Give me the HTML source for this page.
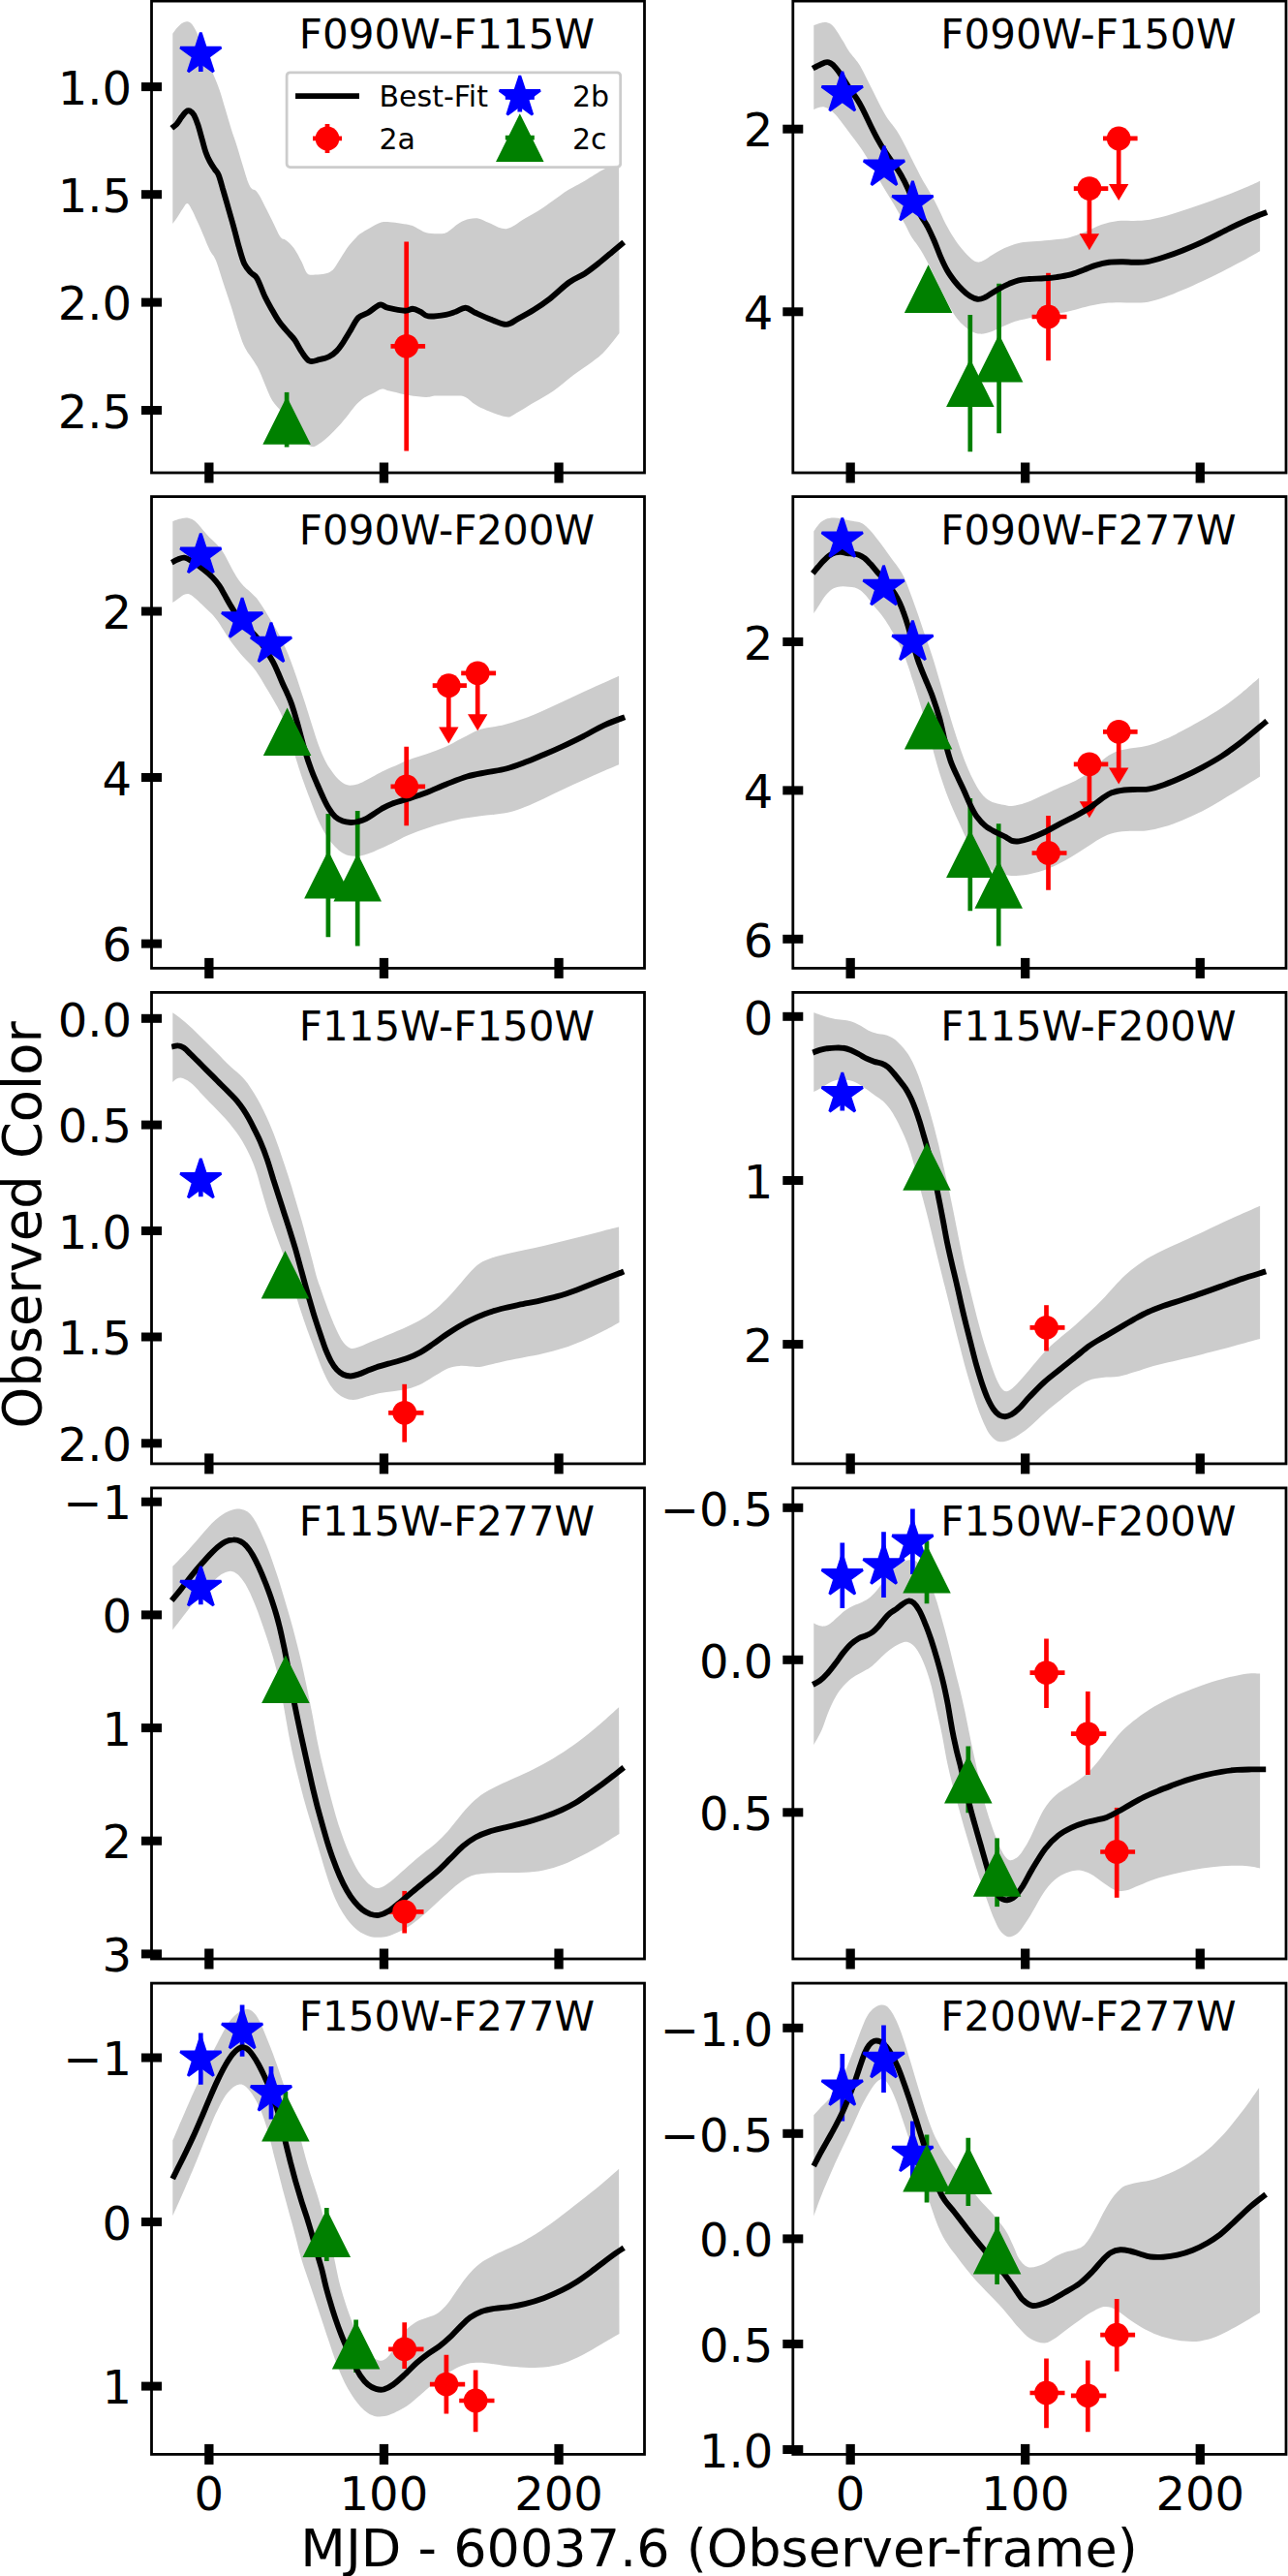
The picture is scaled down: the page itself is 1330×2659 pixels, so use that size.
<!DOCTYPE html>
<html><head><meta charset="utf-8"><title>Observed Color</title>
<style>
html,body{margin:0;padding:0;background:#fff;}
body{width:1330px;height:2659px;overflow:hidden;}
svg{display:block;}
text{font-family:'DejaVu Sans', 'Liberation Sans', sans-serif;fill:#000;}
.tl{font-size:48px;}
.tt{font-size:42px;}
.lg{font-size:30px;}
.al{font-size:54px;}
.yl{font-size:54.3px;}
</style></head><body>
<svg width="1330" height="2659" viewBox="0 0 1330 2659">
<rect width="1330" height="2659" fill="#ffffff"/>
<defs>
<clipPath id="c1"><rect x="156.5" y="1.1" width="509" height="486.9"/></clipPath>
<clipPath id="c2"><rect x="818.8" y="1.1" width="509.2" height="486.9"/></clipPath>
<clipPath id="c3"><rect x="156.5" y="512.6" width="509" height="486.8"/></clipPath>
<clipPath id="c4"><rect x="818.8" y="512.6" width="509.2" height="486.8"/></clipPath>
<clipPath id="c5"><rect x="156.5" y="1024.4" width="509" height="486.5"/></clipPath>
<clipPath id="c6"><rect x="818.8" y="1024.4" width="509.2" height="486.5"/></clipPath>
<clipPath id="c7"><rect x="156.5" y="1535.9" width="509" height="486.1"/></clipPath>
<clipPath id="c8"><rect x="818.8" y="1535.9" width="509.2" height="486.1"/></clipPath>
<clipPath id="c9"><rect x="156.5" y="2047.1" width="509" height="486.3"/></clipPath>
<clipPath id="c10"><rect x="818.8" y="2047.1" width="509.2" height="486.3"/></clipPath>
</defs>
<g clip-path="url(#c1)">
<path d="M178.3,34.7 C179.1,33.6 181.6,30.1 183.3,28.3 C185,26.4 186.7,24.8 188.4,23.8 C190,22.8 191.7,22 193.4,22.2 C195.1,22.4 196.8,23.2 198.4,25.2 C200.1,27.3 201.5,29.8 203.5,34.3 C205.5,38.9 208,46.1 210.6,52.5 C213.1,58.9 215.9,65.9 218.6,72.7 C221.3,79.4 224.4,86.1 226.7,92.9 C229.1,99.6 230.7,106.3 232.8,113 C234.8,119.8 236.8,126.8 238.8,133.2 C240.8,139.6 242.9,145 244.9,151.4 C246.9,157.8 249.1,165.5 250.9,171.6 C252.8,177.6 254.5,183.9 256,187.7 C257.5,191.6 258.7,193.3 260,194.8 C261.4,196.3 262.5,195.3 264.1,196.8 C265.6,198.3 267.2,200.7 269.1,203.9 C270.9,207.1 273.1,212 275.2,216 C277.2,220 278.9,223.4 281.2,228.1 C283.6,232.8 286.9,240.9 289.3,244.3 C291.6,247.6 293,246.1 295.3,248.1 C297.7,250.1 300.7,252.4 303.4,256.1 C306.1,259.8 309.1,265.9 311.5,270.3 C313.8,274.7 315.2,280.2 317.5,282.4 C319.9,284.6 322.6,283.4 325.6,283.4 C328.6,283.4 332.7,283.2 335.7,282.4 C338.7,281.6 341.1,281 343.8,278.4 C346.5,275.7 349.2,270.3 351.9,266.2 C354.6,262.2 357.2,257.7 359.9,254.1 C362.6,250.6 366,247.2 368,245 C370,242.9 369.7,242.9 372,241.2 C374.4,239.6 378.8,237 382.1,235.2 C385.5,233.3 389.2,231.1 392.2,230.1 C395.3,229.1 395.3,228.8 400.3,229.1 C405.3,229.5 417.1,231.1 422.1,232.1 C427.1,233.2 427.2,233.8 430.2,235.2 C433.2,236.5 436.2,239.2 440.3,240.2 C444.3,241.2 450.7,241.4 454.4,241.2 C458.1,241.1 459.1,241.1 462.5,239.2 C465.8,237.4 470.9,232.3 474.6,230.1 C478.3,227.9 481.3,226.8 484.7,226.1 C488.1,225.3 491.4,225 494.8,225.7 C498.1,226.4 500.2,228.4 504.9,230.1 C509.6,231.9 517,236.9 523,236.2 C529.1,235.5 534.8,229.8 541.2,226.1 C547.6,222.4 554,218.9 561.4,214 C568.8,209.1 578.6,201.4 585.6,196.8 C592.7,192.3 597.4,190.4 603.8,186.7 C610.2,183 618.1,177.5 624,174.6 C629.9,171.8 636.6,170.4 639.1,169.6 L639.5,344 C636.9,347.2 628.6,358.3 624,363.1 C619.4,368 617.2,369.2 611.9,373.2 C606.5,377.3 598.4,382.3 591.7,387.4 C584.9,392.4 578.2,398.8 571.5,403.5 C564.8,408.2 558,411.6 551.3,415.6 C544.6,419.7 535.8,425.3 531.1,427.7 C526.4,430.2 527.8,430.8 523,430.2 C518.3,429.5 508.2,425.8 502.9,423.7 C497.5,421.6 494.4,419.9 490.7,417.6 C487,415.4 484,411.5 480.7,410 C477.3,408.5 475.6,408.8 470.6,408.6 C465.5,408.3 455.4,408.3 450.4,408.6 C445.3,408.8 445,410.1 440.3,410 C435.6,409.9 428.4,409 422.1,408 C415.8,406.9 407,404.6 402.3,403.5 C397.7,402.4 397.3,401 394.3,401.5 C391.2,402 387.2,405 384.2,406.5 C381.1,408.1 378.8,408.7 376.1,410.6 C373.4,412.4 370.7,414.8 368,417.6 C365.3,420.5 363,424 359.9,427.7 C356.9,431.4 353.2,436.1 349.8,439.8 C346.5,443.5 343.1,446.9 339.8,449.9 C336.4,453 332.7,456.2 329.7,458 C326.6,459.9 324.6,461.7 321.6,461 C318.6,460.4 314.9,457.2 311.5,454 C308.1,450.8 304.8,446.6 301.4,441.9 C298,437.2 294.7,430.4 291.3,425.7 C287.9,421 284.2,418.6 281.2,413.6 C278.2,408.6 275.5,400.8 273.1,395.4 C270.8,390.1 269.1,385.3 267.1,381.3 C265.1,377.3 263.4,374.9 261,371.2 C258.7,367.5 255.3,363.8 253,359.1 C250.6,354.4 249.2,350 246.9,343 C244.5,335.9 241.5,325.1 238.8,316.7 C236.1,308.3 233.4,300.6 230.7,292.5 C228.1,284.4 225,274 222.7,268.3 C220.3,262.5 219,263 216.6,258.2 C214.3,253.3 210.7,244.2 208.5,239.2 C206.4,234.2 205.2,231.8 203.5,228.1 C201.8,224.4 200.1,220 198.4,217 C196.8,214 195.1,210.1 193.4,209.9 C191.7,209.8 190,213.6 188.4,216 C186.7,218.3 185,221.5 183.3,224.1 C181.6,226.6 179.1,230 178.3,231.1 Z" fill="#cccccc"/>
<line x1="207.3" y1="38.4" x2="207.3" y2="73.9" stroke="#0000ff" stroke-width="4.7"/>
<line x1="296.1" y1="404.9" x2="296.1" y2="461.5" stroke="#008000" stroke-width="4.7"/>
<line x1="403.5" y1="357.3" x2="439.1" y2="357.3" stroke="#ff0000" stroke-width="4.7"/>
<line x1="419.7" y1="249.5" x2="419.7" y2="465.5" stroke="#ff0000" stroke-width="4.7"/>
<path d="M177.3,132.2 C178.1,131.5 180.6,130 182.3,128.2 C184,126.3 185.7,123.3 187.3,121.1 C189,118.9 190.9,116.1 192.4,115.1 C193.9,114 195.1,114 196.4,114.7 C197.8,115.3 199.1,116.7 200.5,119.1 C201.8,121.5 203.2,125.2 204.5,129.2 C205.8,133.2 207.2,138.6 208.5,143.3 C209.9,148 211.2,153.6 212.6,157.5 C213.9,161.3 215.1,163.7 216.6,166.5 C218.1,169.4 220.1,172.3 221.7,174.6 C223.2,177 224.4,177.5 225.7,180.7 C227,183.9 228.4,189.2 229.7,193.8 C231.1,198.3 232.4,203.2 233.8,207.9 C235.1,212.6 236.5,217.3 237.8,222 C239.2,226.8 240.3,230.5 241.8,236.2 C243.4,241.9 245.3,250.1 247.1,256.1 C248.8,262.2 250.4,268.1 252.3,272.3 C254.3,276.5 256.8,278.9 259,281.4 C261.2,283.9 263,283.2 265.5,287.4 C267.9,291.6 271.1,301.1 273.7,306.6 C276.4,312.2 279,316.5 281.4,320.7 C283.8,325 285.6,328.3 288.1,331.8 C290.6,335.4 293.6,338.7 296.4,341.9 C299.1,345.1 301.9,347.5 304.4,351 C306.9,354.6 309,359.5 311.5,363.1 C314,366.7 316.5,371.3 319.6,372.6 C322.6,374 326.3,372 329.7,371.2 C333,370.5 336.7,369.7 339.8,368.2 C342.8,366.7 345.5,364.5 347.8,362.1 C350.2,359.8 351.5,357.6 353.9,354.1 C356.2,350.5 359.3,345.3 362,340.9 C364.6,336.6 367,330.8 370,327.8 C373.1,324.8 376.4,325 380.1,322.8 C383.8,320.6 388.9,315.5 392.2,314.7 C395.6,313.8 396,316.7 400.3,317.7 C404.6,318.7 413.8,320.6 418.1,320.7 C422.4,320.9 423.5,318.6 426.1,318.7 C428.8,318.9 431.5,320.5 434.2,321.8 C436.9,323 437.9,325.9 442.3,326.4 C446.7,326.9 455.8,325.6 460.5,324.8 C465.2,324 467.2,322.9 470.6,321.8 C473.9,320.6 477.3,317.5 480.7,317.7 C484,317.9 486.4,320.7 490.7,322.8 C495.1,324.8 501.5,327.8 506.9,329.8 C512.3,331.8 518.3,335 523,334.9 C527.8,334.7 530.4,331.3 535.2,328.8 C539.9,326.3 545.9,323.1 551.3,319.7 C556.7,316.4 561.4,313.3 567.5,308.6 C573.5,303.9 581.6,295.8 587.6,291.5 C593.7,287.1 598.4,285.9 603.8,282.4 C609.2,278.9 615.2,274 619.9,270.3 C624.6,266.6 628,263.6 632,260.2 C636.1,256.8 642.1,251.8 644.2,250.1" fill="none" stroke="#000000" stroke-width="5.9" stroke-linejoin="round" stroke-linecap="butt"/>
<path d="M207.3,33.8 L202.3,49.1 L186.2,49.1 L199.3,58.6 L194.3,74 L207.3,64.5 L220.4,74 L215.4,58.6 L228.4,49.1 L212.3,49.1Z" fill="#0000ff" stroke="#0000ff" stroke-width="2.8" stroke-linejoin="bevel"/>
<path d="M296.1,412.4 L273.6,457.4 L318.6,457.4 Z" fill="#008000" stroke="#008000" stroke-width="2.8" stroke-linejoin="miter" stroke-miterlimit="10"/>
<circle cx="419.7" cy="357.3" r="12.4" fill="#ff0000"/>
</g>
<rect x="156.5" y="1.1" width="509" height="486.9" fill="none" stroke="#000000" stroke-width="2.8"/>
<rect x="211.2" y="477.5" width="9.3" height="21" fill="#000000"/>
<rect x="391.8" y="477.5" width="9.3" height="21" fill="#000000"/>
<rect x="572.4" y="477.5" width="9.3" height="21" fill="#000000"/>
<rect x="146" y="85.1" width="21" height="9" fill="#000000"/>
<text x="136" y="107.8" text-anchor="end" class="tl">1.0</text>
<rect x="146" y="196.2" width="21" height="9" fill="#000000"/>
<text x="136" y="218.9" text-anchor="end" class="tl">1.5</text>
<rect x="146" y="307.6" width="21" height="9" fill="#000000"/>
<text x="136" y="330.3" text-anchor="end" class="tl">2.0</text>
<rect x="146" y="419" width="21" height="9" fill="#000000"/>
<text x="136" y="441.7" text-anchor="end" class="tl">2.5</text>
<text x="614" y="50.2" text-anchor="end" class="tt">F090W-F115W</text>
<g clip-path="url(#c2)">
<path d="M840.3,26.2 C841.3,25.9 844.4,24.5 846.5,24 C848.7,23.5 851.1,22.8 853.2,23.1 C855.3,23.5 857.3,24.4 859.3,26 C861.2,27.7 862.8,30.1 864.7,32.9 C866.6,35.7 868.6,39.3 870.6,42.6 C872.5,45.9 874.6,49.7 876.4,52.5 C878.3,55.3 879.9,57.1 881.7,59.3 C883.4,61.6 885.1,63.1 886.9,66 C888.8,68.9 890.8,72.9 892.8,76.7 C894.7,80.5 896.8,84.8 898.8,88.8 C900.8,92.9 902.9,96.9 904.9,100.9 C906.9,104.9 908.9,109.1 910.9,112.8 C913,116.5 915,120.1 917,123.1 C919,126.1 921,128 923,130.8 C925.1,133.6 927.1,136.5 929.1,139.9 C931.1,143.3 933.1,147.5 935.2,151.4 C937.2,155.3 939.2,159.5 941.2,163.5 C943.2,167.5 945.2,171.7 947.3,175.6 C949.3,179.6 951.3,183.5 953.3,187.1 C955.3,190.7 957.4,193.7 959.4,197.2 C961.4,200.7 963.4,204.3 965.4,208.1 C967.5,212 969.3,216 971.5,220.4 C973.6,224.8 975.7,229.8 978.4,234.5 C981,239.3 984.3,244.7 987.2,248.9 C990.1,253.1 993,256.7 995.7,259.8 C998.4,262.9 1001,265.6 1003.4,267.4 C1005.7,269.2 1007.7,270.4 1009.8,270.6 C1012,270.8 1013.9,269.8 1016.3,268.6 C1018.7,267.4 1021.3,265.1 1024,263.4 C1026.7,261.7 1029.4,259.9 1032.5,258.4 C1035.5,256.8 1039,255.3 1042.5,254 C1046.1,252.8 1049.8,251.4 1053.9,250.6 C1057.9,249.8 1061.9,249.7 1066.7,249.3 C1071.5,248.9 1078.4,248.4 1082.6,248 C1086.8,247.6 1088.4,247.6 1092,247.1 C1095.6,246.7 1099.4,246.5 1104.1,245.2 C1108.8,243.9 1114.8,241.8 1120.3,239.6 C1125.7,237.4 1131.3,234.1 1137,232.1 C1142.7,230.2 1148.8,228.8 1154.4,228.1 C1160,227.4 1165,228.1 1170.5,227.9 C1176,227.7 1180.9,227.8 1187.5,226.7 C1194.1,225.5 1202.8,223.2 1210.1,221 C1217.4,218.9 1224.6,216.3 1231.5,214 C1238.4,211.6 1245.1,209.3 1251.7,206.9 C1258.3,204.6 1265.1,202.2 1271.1,199.8 C1277,197.5 1282.4,195.2 1287.4,193 C1292.4,190.8 1298.8,187.8 1301.1,186.7 L1301.1,259.2 C1297.9,261 1288.3,266.5 1281.8,270.1 C1275.2,273.6 1268.5,277 1261.8,280.4 C1255.1,283.7 1248.3,287.1 1241.6,290.3 C1234.9,293.4 1228,296.6 1221.4,299.3 C1214.8,302.1 1208,305 1202,307 C1196,309.1 1190.6,310.7 1185.5,311.7 C1180.3,312.6 1175.8,312.5 1170.9,312.6 C1166.1,312.7 1161.4,312.3 1156.4,312.3 C1151.4,312.4 1145.9,312.4 1140.7,313 C1135.4,313.5 1129.8,314.7 1124.9,315.8 C1120,316.9 1115.6,318.4 1111.2,319.5 C1106.8,320.6 1103.6,321.5 1098.7,322.4 C1093.8,323.2 1087.5,323.6 1081.8,324.5 C1076.1,325.4 1069.1,326.9 1064.3,327.9 C1059.4,328.9 1056,329.7 1052.6,330.6 C1049.3,331.5 1046.9,332.3 1044.2,333.3 C1041.4,334.4 1038.8,335.5 1036.1,336.7 C1033.4,338 1030.7,339.5 1028,340.6 C1025.3,341.8 1022.6,343 1019.9,343.6 C1017.2,344.3 1014.6,344.8 1011.9,344.6 C1009.2,344.4 1006.5,343.6 1003.8,342.2 C1001.1,340.9 998.3,338.8 995.7,336.5 C993.1,334.2 990.5,331.6 988,328.4 C985.6,325.3 983.6,321.8 981.2,317.5 C978.8,313.2 976.1,307.7 973.5,302.6 C971,297.5 968.2,291.8 965.8,287 C963.5,282.2 961.5,277.8 959.4,273.7 C957.3,269.6 955.3,265.9 953.3,262.4 C951.3,258.9 949.3,255.9 947.3,253 C945.2,250 943.3,248.1 941.2,244.6 C939.1,241.1 937.1,236.6 934.8,232.1 C932.4,227.7 929.7,222.7 927.1,218 C924.5,213.4 921.7,208.8 919,204.3 C916.3,199.8 913.6,195.7 910.9,191 C908.2,186.3 905.5,180.9 902.9,176 C900.2,171.2 897.5,166.3 894.8,161.9 C892.1,157.5 889.4,153.6 886.7,149.8 C884,146 881.3,142.7 878.6,139.1 C875.9,135.5 873.2,131.6 870.6,128.2 C867.9,124.8 865.2,121 862.9,118.5 C860.5,116 858.5,114.4 856.4,113 C854.4,111.7 852.4,110.6 850.6,110.2 C848.7,109.9 847,110.6 845.3,111 C843.6,111.5 841.1,112.7 840.3,113 Z" fill="#cccccc"/>
<line x1="1001.8" y1="325" x2="1001.8" y2="466.3" stroke="#008000" stroke-width="4.7"/>
<line x1="1031.6" y1="292.7" x2="1031.6" y2="447.3" stroke="#008000" stroke-width="4.7"/>
<line x1="1065.6" y1="327" x2="1101.5" y2="327" stroke="#ff0000" stroke-width="4.7"/>
<line x1="1082.5" y1="281.8" x2="1082.5" y2="372.2" stroke="#ff0000" stroke-width="4.7"/>
<line x1="1108.8" y1="194.6" x2="1144.3" y2="194.6" stroke="#ff0000" stroke-width="4.7"/>
<line x1="1124.9" y1="194.6" x2="1124.9" y2="250.2" stroke="#ff0000" stroke-width="4.7"/>
<path d="M1114.7,241.2 L1135.1,241.2 L1124.9,258.2 Z" fill="#ff0000"/>
<line x1="1139" y1="142.9" x2="1174.6" y2="142.9" stroke="#ff0000" stroke-width="4.7"/>
<line x1="1155.2" y1="142.9" x2="1155.2" y2="198.9" stroke="#ff0000" stroke-width="4.7"/>
<path d="M1145,189.9 L1165.4,189.9 L1155.2,206.9 Z" fill="#ff0000"/>
<path d="M839.3,70.7 C840.3,70.1 843.4,68.5 845.3,67.5 C847.3,66.6 849.3,65.3 851,64.8 C852.7,64.2 854,63.9 855.6,64.3 C857.2,64.7 858.8,65.8 860.5,67.3 C862.1,68.8 863.8,71 865.5,73.3 C867.2,75.6 868.8,78.2 870.8,81.2 C872.7,84.2 874.9,87.8 877.2,91.2 C879.5,94.7 882.6,98.7 884.7,101.9 C886.8,105.2 888.2,107.6 889.9,110.8 C891.7,114.1 893.2,117.6 895,121.3 C896.8,125.1 898.9,129.3 900.8,133.2 C902.8,137.2 904.8,141.2 906.9,144.9 C908.9,148.6 910.9,151.9 913.2,155.4 C915.4,158.9 917.9,162.4 920.4,165.9 C922.9,169.5 926,173.5 928.1,176.8 C930.2,180.1 931.6,182.7 933.1,185.7 C934.7,188.7 935.8,191.2 937.6,195 C939.3,198.8 941.4,203.7 943.6,208.3 C945.9,212.9 948.6,218.3 950.9,222.5 C953.2,226.7 955.3,229.3 957.6,233.5 C959.8,237.8 962.1,242.7 964.4,248 C966.7,253.2 969,259.9 971.3,265.1 C973.5,270.2 975.6,274.8 978,279 C980.3,283.1 983,286.7 985.6,290.1 C988.2,293.4 991,296.5 993.7,299.1 C996.4,301.8 999.1,304.2 1001.8,305.8 C1004.4,307.4 1007,308.5 1009.4,308.8 C1011.9,309 1013.9,308.4 1016.3,307.4 C1018.7,306.4 1021.3,304.3 1024,302.7 C1026.7,301.1 1029.4,299.2 1032.5,297.6 C1035.5,296 1038.9,294.3 1042.1,292.9 C1045.4,291.5 1048.4,290.1 1051.8,289.3 C1055.3,288.4 1058.3,288.3 1062.7,288 C1067,287.7 1073.4,287.6 1078.2,287.3 C1082.9,287 1086.6,286.7 1091,286.1 C1095.4,285.5 1100,284.9 1104.7,283.7 C1109.4,282.4 1114.8,280.1 1119.3,278.5 C1123.7,276.9 1127.1,275.2 1131.4,273.9 C1135.7,272.6 1140.4,271.4 1145.1,270.8 C1149.8,270.2 1155.2,270.3 1159.6,270.3 C1164,270.3 1167.3,270.8 1171.5,270.7 C1175.7,270.7 1179.8,271 1184.9,270.1 C1189.9,269.2 1195.7,267.4 1201.8,265.5 C1207.9,263.5 1214.4,261.2 1221.4,258.4 C1228.4,255.6 1235.6,252.6 1243.6,248.8 C1251.6,245.1 1261.7,239.6 1269.4,235.8 C1277.2,232.1 1283.6,229.1 1290,226.3 C1296.5,223.5 1305.2,220.2 1308.2,219" fill="none" stroke="#000000" stroke-width="5.9" stroke-linejoin="round" stroke-linecap="butt"/>
<path d="M869.8,74 L864.8,89.3 L848.6,89.3 L861.7,98.8 L856.7,114.1 L869.8,104.6 L882.8,114.1 L877.8,98.8 L890.9,89.3 L874.7,89.3Z" fill="#0000ff" stroke="#0000ff" stroke-width="2.8" stroke-linejoin="bevel"/>
<path d="M913,150.7 L908,166 L891.8,166 L904.9,175.5 L899.9,190.8 L913,181.4 L926,190.8 L921,175.5 L934.1,166 L917.9,166Z" fill="#0000ff" stroke="#0000ff" stroke-width="2.8" stroke-linejoin="bevel"/>
<path d="M942.4,187 L937.4,202.4 L921.3,202.4 L934.4,211.8 L929.4,227.2 L942.4,217.7 L955.5,227.2 L950.5,211.8 L963.5,202.4 L947.4,202.4Z" fill="#0000ff" stroke="#0000ff" stroke-width="2.8" stroke-linejoin="bevel"/>
<path d="M958.6,276.5 L936.1,321.5 L981.1,321.5 Z" fill="#008000" stroke="#008000" stroke-width="2.8" stroke-linejoin="miter" stroke-miterlimit="10"/>
<path d="M1001.8,373.6 L979.3,418.6 L1024.3,418.6 Z" fill="#008000" stroke="#008000" stroke-width="2.8" stroke-linejoin="miter" stroke-miterlimit="10"/>
<path d="M1031.6,348.2 L1009.1,393.2 L1054.1,393.2 Z" fill="#008000" stroke="#008000" stroke-width="2.8" stroke-linejoin="miter" stroke-miterlimit="10"/>
<circle cx="1082.5" cy="327" r="12.4" fill="#ff0000"/>
<circle cx="1124.9" cy="194.6" r="12.4" fill="#ff0000"/>
<circle cx="1155.2" cy="142.9" r="12.4" fill="#ff0000"/>
</g>
<rect x="818.8" y="1.1" width="509.2" height="486.9" fill="none" stroke="#000000" stroke-width="2.8"/>
<rect x="873.5" y="477.5" width="9.3" height="21" fill="#000000"/>
<rect x="1054" y="477.5" width="9.3" height="21" fill="#000000"/>
<rect x="1234.6" y="477.5" width="9.3" height="21" fill="#000000"/>
<rect x="808.3" y="128.7" width="21" height="9" fill="#000000"/>
<text x="798.3" y="151.4" text-anchor="end" class="tl">2</text>
<rect x="808.3" y="317.3" width="21" height="9" fill="#000000"/>
<text x="798.3" y="340" text-anchor="end" class="tl">4</text>
<text x="1276.5" y="50.2" text-anchor="end" class="tt">F090W-F150W</text>
<g clip-path="url(#c3)">
<path d="M178.3,538.3 C179.3,537.9 182.4,536.5 184.7,535.8 C187,535.2 189.7,534.4 192,534.4 C194.3,534.4 196.4,534.9 198.4,536 C200.5,537.1 202.5,538.9 204.5,540.9 C206.5,543 208.5,545.8 210.6,548.2 C212.6,550.6 214.6,553 216.6,555.1 C218.6,557.1 220.7,558.6 222.7,560.7 C224.7,562.8 226.7,564.7 228.7,567.6 C230.7,570.4 232.8,574.2 234.8,577.9 C236.8,581.5 238.8,585.8 240.8,589.4 C242.9,592.9 244.9,596.4 246.9,599.3 C248.9,602.1 250.9,604.3 253,606.3 C255,608.4 257,609.5 259,611.4 C261,613.3 263,615.2 265.1,617.6 C267.1,620.1 269.1,623.2 271.1,626.3 C273.1,629.4 275.1,632.7 277.2,636.2 C279.3,639.7 281.3,643.1 283.6,647.1 C285.9,651.1 288.6,655.8 290.9,660.4 C293.2,665.1 295.3,669.9 297.4,675 C299.4,680.1 301.4,685.5 303.4,691.1 C305.4,696.8 307.5,703 309.5,708.9 C311.5,714.8 313.3,720.5 315.3,726.6 C317.3,732.8 319.1,738.8 321.4,746 C323.7,753.1 326.7,763.1 329.1,769.6 C331.4,776.1 333.5,780.6 335.7,784.9 C337.9,789.2 339.8,792.1 342.2,795.4 C344.5,798.7 347.2,802.2 349.8,804.7 C352.5,807.1 355.2,809.2 357.9,810.1 C360.6,811 363.3,810.6 366,810.2 C368.7,809.8 371.3,808.7 374.1,807.5 C376.8,806.3 379.5,804.7 382.5,803.1 C385.6,801.5 388.6,799.6 392.2,797.8 C395.9,796 399.3,794.4 404.3,792.1 C409.2,789.9 415.7,786.7 421.8,784.4 C427.9,782.1 434.4,780.4 440.7,778.2 C447,776 453.6,773.7 459.7,771.1 C465.7,768.4 470.9,765.2 477,762.1 C483.1,759.1 488.9,755.2 496.4,752.8 C503.9,750.4 512.7,750.4 521.8,747.8 C531,745.3 541.3,741.7 551.3,737.7 C561.3,733.8 571.6,728.6 581.6,724 C591.6,719.4 601.7,714.7 611.3,710.3 C620.8,705.9 634.5,699.9 639.1,697.8 L639.1,789.3 C636.2,790.6 627.6,794.1 621.4,796.8 C615.1,799.5 608.4,802.5 601.8,805.5 C595.1,808.5 588.3,811.6 581.6,814.8 C574.9,817.9 568,821.4 561.4,824.4 C554.8,827.5 548,830.7 542,833 C536,835.4 530.7,837.2 525.5,838.5 C520.2,839.8 515.7,840.1 510.5,840.8 C505.3,841.4 500,841.7 494.4,842.4 C488.8,843.2 482.8,844 477,845.1 C471.2,846.2 465.7,847.6 459.7,849.3 C453.6,850.9 447,852.8 440.7,854.9 C434.4,857 427.9,859.4 421.8,862 C415.7,864.6 409.1,868.3 404.3,870.7 C399.4,873 396,874.6 392.6,876.1 C389.3,877.6 386.9,878.8 384.2,879.8 C381.4,880.9 378.8,881.8 376.1,882.4 C373.4,883.1 370.7,883.7 368,883.8 C365.3,883.9 362.6,883.9 359.9,883.1 C357.2,882.4 354.5,881.1 351.9,879.3 C349.2,877.4 346.5,874.7 344.2,872.1 C341.8,869.5 339.8,866.8 337.7,863.6 C335.6,860.4 333.7,857.1 331.7,853.1 C329.7,849.1 327.6,844.3 325.6,839.4 C323.6,834.5 321.5,828.8 319.6,823.6 C317.6,818.5 315.6,813 313.9,808.3 C312.2,803.6 311.1,800.3 309.5,795.4 C307.9,790.4 306.4,785.6 304.2,778.5 C302.1,771.4 298.8,759.5 296.6,752.8 C294.3,746.1 292.8,742.6 290.9,738.4 C289,734.1 287.2,731 285.2,727.5 C283.3,723.9 281.2,720.4 279.2,717 C277.2,713.5 275.2,710.2 273.1,706.9 C271.1,703.5 269.2,700.1 267.1,697 C265,693.8 263,690.9 260.6,688.1 C258.3,685.3 255.6,682.9 253,680 C250.3,677.1 247.5,673.8 244.9,670.5 C242.3,667.3 239.6,663.8 237.2,660.4 C234.8,657.1 232.8,653.6 230.7,650.3 C228.7,647.1 226.8,643.7 224.7,640.9 C222.6,638 220.6,635.7 218.2,633.2 C215.9,630.7 213.1,628.4 210.6,625.9 C208,623.5 205.1,620.5 202.7,618.4 C200.2,616.4 197.9,614.2 195.8,613.4 C193.7,612.6 192.1,613.1 190.2,613.8 C188.3,614.5 186.3,616.5 184.3,617.8 C182.3,619.2 179.3,621.4 178.3,622.1 Z" fill="#cccccc"/>
<line x1="338.9" y1="840.1" x2="338.9" y2="967.3" stroke="#008000" stroke-width="4.7"/>
<line x1="369.2" y1="836.9" x2="369.2" y2="976.6" stroke="#008000" stroke-width="4.7"/>
<line x1="403.5" y1="811.8" x2="439.1" y2="811.8" stroke="#ff0000" stroke-width="4.7"/>
<line x1="419.7" y1="770.7" x2="419.7" y2="852.2" stroke="#ff0000" stroke-width="4.7"/>
<line x1="446.7" y1="707.7" x2="481.9" y2="707.7" stroke="#ff0000" stroke-width="4.7"/>
<line x1="463.3" y1="707.7" x2="463.3" y2="759.6" stroke="#ff0000" stroke-width="4.7"/>
<path d="M453.1,750.6 L473.5,750.6 L463.3,767.6 Z" fill="#ff0000"/>
<line x1="476.2" y1="694.8" x2="512.1" y2="694.8" stroke="#ff0000" stroke-width="4.7"/>
<line x1="493.2" y1="694.8" x2="493.2" y2="746.3" stroke="#ff0000" stroke-width="4.7"/>
<path d="M483,737.3 L503.4,737.3 L493.2,754.3 Z" fill="#ff0000"/>
<path d="M177.3,580.7 C178.3,580.2 181.3,578.3 183.5,577.5 C185.7,576.6 188,575.2 190.6,575.7 C193.2,576.1 196,578.1 199.3,580.1 C202.5,582.1 206.6,585.1 210,587.8 C213.3,590.4 216.5,593 219.2,595.8 C222,598.7 224.3,601.4 226.5,604.7 C228.8,608 230.7,612.1 232.8,615.6 C234.8,619.2 236.7,622.7 238.8,626.1 C240.9,629.5 242.8,632.9 245.3,636.2 C247.7,639.5 250.5,642.8 253.6,646.1 C256.6,649.4 260.4,652.4 263.6,656.2 C266.9,660 270.3,664.6 273.3,669.1 C276.4,673.7 279.7,679.2 282,683.4 C284.3,687.7 285.7,691.2 287.3,694.8 C288.8,698.3 290,701.4 291.5,704.8 C293,708.3 294.7,711.6 296.4,715.3 C298,719 299.5,722.1 301.2,727 C302.9,732 304.4,736.9 306.6,744.8 C308.9,752.7 312.2,766.1 314.7,774.4 C317.2,782.8 319.4,789.1 321.6,795 C323.7,800.8 325.6,804.8 327.6,809.5 C329.7,814.2 331.7,819 333.7,823.2 C335.7,827.5 337.7,831.6 339.8,834.9 C341.8,838.2 343.9,841 346.2,843.1 C348.6,845.2 351.3,846.6 353.9,847.6 C356.5,848.6 359.3,848.9 362,849 C364.6,849.1 367.3,848.7 370,848 C372.7,847.4 375.4,846.5 378.1,845.1 C380.8,843.8 383.5,841.7 386.2,840 C388.9,838.3 391.2,836.5 394.3,834.7 C397.3,833 400.1,831.4 404.7,829.7 C409.3,828 415.8,826.4 421.8,824.4 C427.8,822.5 434.2,820.5 440.7,818 C447.2,815.5 453.9,812.2 460.9,809.5 C467.8,806.8 475.3,803.6 482.3,801.5 C489.3,799.5 496.1,798.5 502.9,797.1 C509.6,795.8 516.2,795.2 522.6,793.5 C529.1,791.8 535.2,789.5 541.6,787.1 C548.1,784.7 554.7,781.8 561.4,779 C568.1,776.2 574.8,773.3 581.6,770.1 C588.4,767 595.1,763.7 602.2,760.1 C609.2,756.5 616.6,751.9 623.8,748.6 C630.9,745.3 641.6,741.6 645.2,740.2" fill="none" stroke="#000000" stroke-width="5.9" stroke-linejoin="round" stroke-linecap="butt"/>
<path d="M207.3,550.7 L202.3,566 L186.2,566 L199.3,575.5 L194.3,590.9 L207.3,581.4 L220.4,590.9 L215.4,575.5 L228.4,566 L212.3,566Z" fill="#0000ff" stroke="#0000ff" stroke-width="2.8" stroke-linejoin="bevel"/>
<path d="M250.1,617.3 L245.1,632.7 L229,632.7 L242.1,642.1 L237.1,657.5 L250.1,648 L263.2,657.5 L258.2,642.1 L271.2,632.7 L255.1,632.7Z" fill="#0000ff" stroke="#0000ff" stroke-width="2.8" stroke-linejoin="bevel"/>
<path d="M280,642.8 L275,658.1 L258.9,658.1 L271.9,667.6 L267,682.9 L280,673.4 L293,682.9 L288.1,667.6 L301.1,658.1 L285,658.1Z" fill="#0000ff" stroke="#0000ff" stroke-width="2.8" stroke-linejoin="bevel"/>
<path d="M296.6,733.7 L274.1,778.7 L319.1,778.7 Z" fill="#008000" stroke="#008000" stroke-width="2.8" stroke-linejoin="miter" stroke-miterlimit="10"/>
<path d="M338.9,881.2 L316.4,926.2 L361.4,926.2 Z" fill="#008000" stroke="#008000" stroke-width="2.8" stroke-linejoin="miter" stroke-miterlimit="10"/>
<path d="M369.2,884.2 L346.7,929.2 L391.7,929.2 Z" fill="#008000" stroke="#008000" stroke-width="2.8" stroke-linejoin="miter" stroke-miterlimit="10"/>
<circle cx="419.7" cy="811.8" r="12.4" fill="#ff0000"/>
<circle cx="463.3" cy="707.7" r="12.4" fill="#ff0000"/>
<circle cx="493.2" cy="694.8" r="12.4" fill="#ff0000"/>
</g>
<rect x="156.5" y="512.6" width="509" height="486.8" fill="none" stroke="#000000" stroke-width="2.8"/>
<rect x="211.2" y="988.9" width="9.3" height="21" fill="#000000"/>
<rect x="391.8" y="988.9" width="9.3" height="21" fill="#000000"/>
<rect x="572.4" y="988.9" width="9.3" height="21" fill="#000000"/>
<rect x="146" y="626.5" width="21" height="9" fill="#000000"/>
<text x="136" y="649.2" text-anchor="end" class="tl">2</text>
<rect x="146" y="798" width="21" height="9" fill="#000000"/>
<text x="136" y="820.7" text-anchor="end" class="tl">4</text>
<rect x="146" y="969.6" width="21" height="9" fill="#000000"/>
<text x="136" y="992.3" text-anchor="end" class="tl">6</text>
<text x="614" y="561.7" text-anchor="end" class="tt">F090W-F200W</text>
<g clip-path="url(#c4)">
<path d="M840.3,548.4 C841.2,547.2 843.7,543 845.7,540.9 C847.8,538.9 850.1,537.1 852.6,536.1 C855,535 857.7,534.7 860.5,534.6 C863.2,534.5 866,534.9 868.9,535.4 C871.9,535.8 875.3,536.8 878.2,537.4 C881.1,538 883.9,538.1 886.3,538.8 C888.7,539.6 890.7,540.4 892.8,541.9 C894.8,543.4 896.8,545.6 898.8,547.8 C900.8,550 902.9,552.7 904.9,555.3 C906.9,557.8 908.9,560.2 910.9,562.9 C913,565.6 915,568.6 917,571.4 C919,574.2 921.1,577 923,579.7 C925,582.3 926.9,584.7 928.7,587.4 C930.4,590.1 931.8,592.1 933.5,595.8 C935.3,599.6 937.2,604.9 939.2,610 C941.1,615.1 943.2,620.8 945.2,626.5 C947.3,632.2 949.3,638.4 951.3,644.3 C953.3,650.2 955.3,656.2 957.4,662 C959.4,667.9 961.3,673.1 963.4,679.7 C965.5,686.2 967.5,693.1 969.8,701.2 C972.2,709.2 974.8,718.6 977.6,728 C980.4,737.3 983.6,748.1 986.6,757.5 C989.6,766.8 992.7,776.1 995.7,783.9 C998.7,791.6 1001.6,798.3 1004.6,804.2 C1007.5,810.1 1010.5,815.3 1013.4,819.1 C1016.4,822.9 1019.2,824.9 1022.3,826.7 C1025.4,828.5 1029.3,829.2 1032.2,830 C1035.1,830.7 1037.3,831 1039.5,831.4 C1041.6,831.7 1042.7,832.1 1044.9,832 C1047.1,831.9 1049.4,831.5 1052.6,830.6 C1055.9,829.7 1059.6,828.6 1064.3,826.7 C1068.9,824.8 1075.5,821.6 1080.6,819.3 C1085.7,816.9 1090.1,814.8 1095,812.5 C1100,810.3 1105.3,808.6 1110.4,805.9 C1115.5,803.2 1121,799.9 1125.7,796.4 C1130.4,792.8 1134.3,787.8 1138.6,784.5 C1142.9,781.1 1146.8,778.2 1151.6,776.2 C1156.3,774.2 1161.8,773.5 1166.9,772.6 C1172,771.6 1177.4,771.5 1182.2,770.3 C1187.1,769.2 1190.6,768 1196,765.9 C1201.3,763.8 1206.9,761.5 1214.1,757.9 C1221.4,754.3 1231.6,748.7 1239.6,744.1 C1247.5,739.6 1254.8,735.2 1261.8,730.5 C1268.8,725.7 1275.2,720.9 1281.6,715.7 C1287.9,710.6 1297,702.5 1300.1,699.8 L1301.1,801.4 C1297.9,803.4 1288.3,809.5 1281.8,813.5 C1275.2,817.6 1268.5,821.7 1261.8,825.7 C1255.1,829.6 1248.3,833.7 1241.6,837.2 C1234.9,840.6 1228.1,843.7 1221.4,846.4 C1214.7,849.2 1207.9,851.7 1201.6,853.5 C1195.3,855.4 1189.2,856.8 1183.4,857.5 C1177.7,858.3 1172.3,857.4 1166.9,857.7 C1161.5,858.1 1156.3,858.3 1151.1,859.6 C1146,860.8 1141.5,862.7 1136.2,865.4 C1131,868.2 1125.6,872.4 1119.7,876.1 C1113.7,879.9 1107,884.3 1100.7,887.8 C1094.4,891.3 1087.9,894.8 1081.8,897.1 C1075.7,899.5 1069.2,900.8 1064.3,901.9 C1059.3,903 1055.9,903.4 1052.2,903.7 C1048.5,903.9 1045.6,904 1042.1,903.7 C1038.7,903.3 1035.2,902.8 1031.6,901.5 C1028.1,900.2 1024,898.2 1020.7,895.9 C1017.4,893.6 1014.6,890.6 1011.9,887.4 C1009.1,884.2 1006.7,880.5 1004.3,876.7 C1001.9,872.9 1000.1,869.9 997.6,864.9 C995.1,859.9 992.3,853.6 989.2,846.7 C986.1,839.8 982.4,831.8 979.1,823.4 C975.9,815.1 972.8,806.3 969.8,796.7 C966.8,787.2 964.3,777.2 961.3,766.3 C958.2,755.4 954.7,741.9 951.6,731.4 C948.5,720.8 945.2,710.6 942.7,702.8 C940.2,695.1 938.8,690.4 936.8,684.9 C934.8,679.4 932.9,675 930.7,670.1 C928.5,665.2 925.8,660 923.4,655.6 C921.1,651.2 919,647.7 916.6,643.9 C914.2,640.1 911.5,636.3 908.9,633 C906.4,629.7 903.6,626.8 901.2,623.9 C898.9,621 896.9,618 894.8,615.6 C892.7,613.2 890.7,611.1 888.7,609.6 C886.7,608.1 884.7,607.2 882.7,606.5 C880.7,605.9 878.6,605.9 876.6,605.7 C874.6,605.5 872.6,605.2 870.6,605.2 C868.5,605.3 866.5,605.3 864.5,605.9 C862.5,606.5 860.5,607.2 858.4,608.7 C856.4,610.2 854.4,612.3 852.4,614.8 C850.4,617.4 848.4,620.8 846.3,623.9 C844.3,627 841.3,631.6 840.3,633.2 Z" fill="#cccccc"/>
<line x1="1001.8" y1="823.9" x2="1001.8" y2="940.2" stroke="#008000" stroke-width="4.7"/>
<line x1="1031.2" y1="850.2" x2="1031.2" y2="976.6" stroke="#008000" stroke-width="4.7"/>
<line x1="1065.6" y1="880.5" x2="1101.5" y2="880.5" stroke="#ff0000" stroke-width="4.7"/>
<line x1="1082.5" y1="842.1" x2="1082.5" y2="918.8" stroke="#ff0000" stroke-width="4.7"/>
<line x1="1108.8" y1="788.8" x2="1144.3" y2="788.8" stroke="#ff0000" stroke-width="4.7"/>
<line x1="1124.9" y1="788.8" x2="1124.9" y2="836.3" stroke="#ff0000" stroke-width="4.7"/>
<path d="M1114.7,827.3 L1135.1,827.3 L1124.9,844.3 Z" fill="#ff0000"/>
<line x1="1139" y1="755.3" x2="1174.6" y2="755.3" stroke="#ff0000" stroke-width="4.7"/>
<line x1="1155.2" y1="755.3" x2="1155.2" y2="801.6" stroke="#ff0000" stroke-width="4.7"/>
<path d="M1145,792.6 L1165.4,792.6 L1155.2,809.6 Z" fill="#ff0000"/>
<path d="M839.3,591.8 C840.1,590.8 842.7,587.7 844.5,585.5 C846.4,583.4 848.4,580.9 850.4,578.9 C852.4,576.8 854.4,574.7 856.4,573.3 C858.4,571.9 860.5,570.9 862.5,570.4 C864.5,569.8 866.5,569.7 868.5,569.8 C870.6,570 872.6,570.8 874.6,571.1 C876.6,571.4 878.6,571.4 880.7,571.7 C882.7,572 884.7,571.9 886.7,572.7 C888.7,573.4 890.7,574.6 892.8,576.1 C894.8,577.7 896.7,579.8 898.8,582.1 C901,584.5 903,587.1 905.7,590.2 C908.4,593.3 911.9,596.9 915,600.7 C918,604.5 921.5,609.2 923.9,612.8 C926.2,616.4 927.6,619.2 929.1,622.5 C930.6,625.8 931.8,628.7 933.1,632.6 C934.5,636.4 935.9,640.5 937.4,645.5 C938.9,650.5 940.6,656.9 942.2,662.5 C943.8,668 945.6,674.3 947.1,679 C948.6,683.7 949.8,686.7 951.3,690.6 C952.8,694.4 954,697.2 956,702 C958,706.8 960.7,712.9 963.1,719.4 C965.4,725.9 967.9,733.3 970.1,741.1 C972.3,749 974.3,759.4 976.2,766.8 C978.1,774.1 979.6,779.7 981.6,785.4 C983.6,791.1 986,795.8 988.3,800.9 C990.6,806.1 993.3,811.4 995.6,816.5 C997.9,821.5 999.9,826.7 1002.1,831.2 C1004.3,835.7 1006.3,839.7 1008.9,843.3 C1011.6,846.9 1014.7,850.3 1018.1,853 C1021.5,855.6 1025.7,857.6 1029.1,859.5 C1032.5,861.3 1036,862.7 1038.7,864.1 C1041.3,865.5 1042.7,867.2 1044.9,867.9 C1047.2,868.6 1049.2,868.7 1052.2,868.3 C1055.3,867.9 1058.4,867.2 1063.1,865.5 C1067.7,863.8 1074.8,860.7 1080.2,858.2 C1085.5,855.6 1090,852.7 1095,850.1 C1100.1,847.5 1105.3,845.2 1110.4,842.4 C1115.5,839.6 1121.1,836.5 1125.7,833.5 C1130.3,830.5 1134.1,827 1137.8,824.4 C1141.5,821.9 1144.1,819.8 1147.9,818.3 C1151.8,816.8 1156.4,816.1 1160.8,815.5 C1165.2,814.9 1170,815.1 1174.4,814.9 C1178.7,814.7 1182.2,815.2 1186.9,814.3 C1191.5,813.5 1196.5,812 1202.2,809.9 C1208,807.9 1214.8,805 1221.4,802 C1228,799.1 1234.9,795.7 1241.6,792.1 C1248.3,788.5 1254.8,785 1261.8,780.4 C1268.7,775.9 1275.4,770.8 1283.2,764.8 C1290.9,758.7 1304,747.6 1308.2,744.2" fill="none" stroke="#000000" stroke-width="5.9" stroke-linejoin="round" stroke-linecap="butt"/>
<path d="M869.8,534.6 L864.8,549.9 L848.6,549.9 L861.7,559.4 L856.7,574.7 L869.8,565.2 L882.8,574.7 L877.8,559.4 L890.9,549.9 L874.7,549.9Z" fill="#0000ff" stroke="#0000ff" stroke-width="2.8" stroke-linejoin="bevel"/>
<path d="M912.5,583.8 L907.6,599.2 L891.4,599.2 L904.5,608.6 L899.5,624 L912.5,614.5 L925.6,624 L920.6,608.6 L933.7,599.2 L917.5,599.2Z" fill="#0000ff" stroke="#0000ff" stroke-width="2.8" stroke-linejoin="bevel"/>
<path d="M942.4,640.7 L937.4,656.1 L921.3,656.1 L934.4,665.6 L929.4,680.9 L942.4,671.4 L955.5,680.9 L950.5,665.6 L963.5,656.1 L947.4,656.1Z" fill="#0000ff" stroke="#0000ff" stroke-width="2.8" stroke-linejoin="bevel"/>
<path d="M958.6,727.2 L936.1,772.2 L981.1,772.2 Z" fill="#008000" stroke="#008000" stroke-width="2.8" stroke-linejoin="miter" stroke-miterlimit="10"/>
<path d="M1001.8,859.6 L979.3,904.6 L1024.3,904.6 Z" fill="#008000" stroke="#008000" stroke-width="2.8" stroke-linejoin="miter" stroke-miterlimit="10"/>
<path d="M1031.2,891.3 L1008.7,936.3 L1053.7,936.3 Z" fill="#008000" stroke="#008000" stroke-width="2.8" stroke-linejoin="miter" stroke-miterlimit="10"/>
<circle cx="1082.5" cy="880.5" r="12.4" fill="#ff0000"/>
<circle cx="1124.9" cy="788.8" r="12.4" fill="#ff0000"/>
<circle cx="1155.2" cy="755.3" r="12.4" fill="#ff0000"/>
</g>
<rect x="818.8" y="512.6" width="509.2" height="486.8" fill="none" stroke="#000000" stroke-width="2.8"/>
<rect x="873.5" y="988.9" width="9.3" height="21" fill="#000000"/>
<rect x="1054" y="988.9" width="9.3" height="21" fill="#000000"/>
<rect x="1234.6" y="988.9" width="9.3" height="21" fill="#000000"/>
<rect x="808.3" y="658" width="21" height="9" fill="#000000"/>
<text x="798.3" y="680.7" text-anchor="end" class="tl">2</text>
<rect x="808.3" y="811.4" width="21" height="9" fill="#000000"/>
<text x="798.3" y="834.1" text-anchor="end" class="tl">4</text>
<rect x="808.3" y="964.8" width="21" height="9" fill="#000000"/>
<text x="798.3" y="987.5" text-anchor="end" class="tl">6</text>
<text x="1276.5" y="561.7" text-anchor="end" class="tt">F090W-F277W</text>
<g clip-path="url(#c5)">
<path d="M178.3,1045.3 C179.3,1046 182.2,1047.9 184.3,1049.5 C186.4,1051.1 188.4,1052.7 190.8,1054.7 C193.1,1056.8 195.8,1059.2 198.4,1061.6 C201.1,1064.1 203.8,1066.8 206.5,1069.5 C209.2,1072.1 211.9,1074.9 214.6,1077.6 C217.3,1080.3 220,1082.9 222.7,1085.6 C225.4,1088.3 228.1,1091.1 230.7,1093.7 C233.4,1096.3 236.1,1099 238.4,1101.2 C240.8,1103.4 242.8,1104.9 244.9,1106.8 C247,1108.7 248.9,1110.3 250.9,1112.5 C253,1114.7 255,1117.3 257,1120.2 C259,1123 261,1126.1 263,1129.4 C265.1,1132.8 267.1,1136.5 269.1,1140.3 C271.1,1144.2 273.1,1148.2 275.2,1152.7 C277.2,1157.1 279.2,1161.8 281.2,1166.8 C283.2,1171.8 285.3,1177.4 287.2,1182.8 C289.1,1188.2 291,1194.1 292.7,1199 C294.4,1203.9 295.8,1208.1 297.2,1212.4 C298.6,1216.7 299.8,1220.7 301.1,1224.8 C302.3,1229 303.5,1233.1 304.8,1237.3 C306,1241.4 307.3,1245.5 308.5,1249.7 C309.7,1253.8 310.9,1257.7 312.1,1262.1 C313.4,1266.6 314.4,1270.6 316,1276.4 C317.5,1282.2 319.7,1290 321.4,1296.7 C323.2,1303.3 325,1311.1 326.5,1316.4 C328,1321.6 328.8,1323.6 330.4,1328.1 C331.9,1332.6 333.8,1338.1 335.7,1343.3 C337.6,1348.5 339.8,1354.4 341.8,1359.5 C343.8,1364.5 345.7,1369.3 347.8,1373.6 C349.9,1377.9 351.9,1382.3 354.3,1385.3 C356.6,1388.3 359.3,1391 362,1391.8 C364.6,1392.7 367.3,1391.4 370,1390.6 C372.8,1389.8 375.5,1388.2 378.5,1387 C381.5,1385.7 384.4,1384.6 388.2,1383.1 C392,1381.5 395.7,1380.1 401,1377.8 C406.4,1375.6 414.3,1372.3 420.2,1369.5 C426,1366.8 431.2,1364.4 436.2,1361.3 C441.3,1358.2 445.7,1354.9 450.4,1351 C455,1347 459.8,1342.2 464.1,1337.7 C468.4,1333.1 472.5,1328.2 476.2,1323.9 C479.9,1319.7 483.1,1315.5 486.3,1312.2 C489.5,1308.9 492,1306.2 495.6,1303.9 C499.2,1301.7 503.1,1300.1 507.7,1298.5 C512.3,1296.9 517.8,1295.6 523.4,1294.3 C529.1,1292.9 535.3,1291.6 541.6,1290.2 C547.9,1288.8 554.7,1287.5 561.4,1286 C568.1,1284.5 574.9,1282.8 581.6,1281.1 C588.3,1279.5 595.1,1277.7 601.8,1276 C608.4,1274.3 615.1,1272.5 621.4,1270.9 C627.6,1269.3 636.2,1267.3 639.1,1266.6 L639.5,1364.9 C636.5,1366.6 627.7,1371.6 621.4,1374.8 C615.1,1378 608.4,1381.1 601.8,1383.9 C595.1,1386.7 588.3,1389.4 581.6,1391.5 C574.9,1393.7 568.1,1395.4 561.4,1397 C554.7,1398.6 547.9,1399.8 541.6,1401 C535.3,1402.3 529.1,1403.3 523.4,1404.5 C517.8,1405.7 512.3,1407.2 507.7,1408.2 C503.1,1409.3 499.2,1410.5 495.6,1410.9 C492,1411.3 489.4,1410.6 485.9,1410.4 C482.4,1410.3 478.5,1409.6 474.6,1409.9 C470.7,1410.3 466.6,1410.9 462.5,1412.5 C458.4,1414.2 454.3,1417.1 450,1419.6 C445.6,1422.2 441.2,1425.5 436.2,1427.9 C431.3,1430.3 426,1432.3 420.2,1433.8 C414.3,1435.3 406.4,1436 401,1436.8 C395.7,1437.6 392,1438.1 388.2,1438.9 C384.4,1439.7 381.5,1440.7 378.5,1441.6 C375.5,1442.5 372.8,1443.7 370,1444.2 C367.3,1444.8 364.6,1445.2 362,1444.8 C359.3,1444.5 356.5,1443.5 353.9,1442 C351.3,1440.6 348.6,1438.6 346.2,1436.2 C343.9,1433.8 341.8,1431.1 339.8,1427.7 C337.7,1424.3 335.7,1420.1 333.7,1415.6 C331.7,1411 329.7,1405.5 327.6,1400.2 C325.6,1395 323.5,1389.3 321.6,1384.1 C319.6,1378.8 317.6,1373.4 315.9,1368.7 C314.2,1364 313,1360.3 311.5,1355.8 C310,1351.3 308.7,1347.3 307,1341.7 C305.4,1336 303.3,1328.3 301.4,1321.9 C299.5,1315.5 297.5,1308.7 295.6,1303.1 C293.7,1297.5 292,1293.8 290,1288.2 C287.9,1282.6 285.4,1276.1 283.2,1269.7 C280.9,1263.2 278.5,1256.3 276.3,1249.6 C274.2,1242.8 272.2,1235.8 270.3,1229.2 C268.3,1222.6 266.7,1215.7 264.8,1210 C263,1204.3 261,1199.6 259,1195 C257,1190.5 255,1186.6 253,1182.9 C250.9,1179.2 249,1176 246.9,1172.8 C244.8,1169.7 242.8,1167 240.4,1164 C238.1,1160.9 235.4,1157.6 232.8,1154.7 C230.1,1151.7 227.4,1149 224.7,1146.2 C222,1143.4 219.3,1140.9 216.6,1138.1 C213.9,1135.4 211.2,1132.5 208.5,1129.6 C205.9,1126.8 203.2,1123.3 200.7,1121 C198.2,1118.6 195.8,1116.7 193.6,1115.3 C191.4,1113.9 189.4,1113 187.5,1112.7 C185.7,1112.4 184,1112.8 182.5,1113.5 C181,1114.2 179,1116.4 178.3,1116.9 Z" fill="#cccccc"/>
<line x1="207.3" y1="1200.9" x2="207.3" y2="1235.3" stroke="#0000ff" stroke-width="4.7"/>
<line x1="401.1" y1="1458.3" x2="437.5" y2="1458.3" stroke="#ff0000" stroke-width="4.7"/>
<line x1="417.7" y1="1428.8" x2="417.7" y2="1488.6" stroke="#ff0000" stroke-width="4.7"/>
<path d="M177.3,1080.6 C178.4,1080.4 181.8,1079.2 183.9,1079.4 C186,1079.5 187.6,1080.2 189.8,1081.6 C191.9,1083 194.2,1085.5 196.6,1087.9 C199.1,1090.2 201.8,1093.1 204.5,1095.7 C207.2,1098.4 209.9,1101.1 212.6,1103.8 C215.3,1106.5 218,1109.2 220.7,1111.9 C223.3,1114.6 226,1117.3 228.7,1120 C231.4,1122.6 234.2,1125.3 236.8,1128 C239.4,1130.7 242.1,1133.3 244.5,1136.1 C246.8,1138.9 248.8,1141.5 250.9,1144.6 C253,1147.7 255,1151 257,1154.7 C259,1158.3 261,1162.3 263,1166.4 C265.1,1170.5 267.1,1174.4 269.2,1179.4 C271.4,1184.5 273.6,1190.2 275.8,1196.6 C278,1203 280.3,1211 282.3,1217.7 C284.4,1224.4 286.5,1230.8 288.4,1236.6 C290.3,1242.5 291.9,1247.4 293.6,1252.8 C295.3,1258.2 296.9,1262.9 298.8,1268.9 C300.7,1275 302.9,1281.8 305,1289 C307.1,1296.3 309.6,1305.9 311.4,1312.4 C313.2,1318.9 314.3,1323.2 315.7,1328.1 C317,1332.9 318.2,1337.1 319.6,1341.7 C320.9,1346.2 322.3,1351 323.6,1355.4 C324.9,1359.8 326.3,1363.8 327.6,1367.9 C329,1372 330.3,1375.9 331.7,1380 C333.1,1384.1 334.4,1388.4 336.1,1392.6 C337.8,1396.7 339.8,1401.5 341.8,1405.1 C343.7,1408.6 345.7,1411.5 347.8,1413.8 C349.9,1416 351.9,1417.7 354.3,1418.8 C356.6,1419.9 359.3,1420.5 362,1420.5 C364.6,1420.5 367.3,1419.5 370,1418.6 C372.8,1417.8 375.5,1416.4 378.5,1415.2 C381.5,1414.1 384.4,1412.8 388.2,1411.5 C392,1410.3 395.8,1409.2 401,1407.7 C406.3,1406.2 414.2,1404.2 419.8,1402.2 C425.3,1400.3 429.8,1398.2 434.2,1395.8 C438.7,1393.4 442.3,1390.7 446.3,1387.9 C450.4,1385.2 454.3,1382.1 458.4,1379.2 C462.6,1376.4 466.5,1373.7 471,1371 C475.4,1368.3 480.1,1365.5 485.1,1363.1 C490.1,1360.6 495.5,1358.2 500.8,1356.2 C506.2,1354.2 511.6,1352.5 517.4,1351 C523.2,1349.4 529.2,1348.2 535.6,1346.9 C541.9,1345.5 548.7,1344.5 555.3,1343.1 C562,1341.6 568.8,1340.1 575.5,1338.2 C582.3,1336.2 589.1,1333.8 595.7,1331.4 C602.3,1329 609.2,1326.2 615.1,1323.8 C621,1321.5 626.4,1319.3 631.2,1317.4 C636.1,1315.5 642,1313.3 644.2,1312.4" fill="none" stroke="#000000" stroke-width="5.9" stroke-linejoin="round" stroke-linecap="butt"/>
<path d="M207.3,1195.9 L202.3,1211.3 L186.2,1211.3 L199.3,1220.8 L194.3,1236.1 L207.3,1226.6 L220.4,1236.1 L215.4,1220.8 L228.4,1211.3 L212.3,1211.3Z" fill="#0000ff" stroke="#0000ff" stroke-width="2.8" stroke-linejoin="bevel"/>
<path d="M294.5,1294.1 L272,1339.1 L317,1339.1 Z" fill="#008000" stroke="#008000" stroke-width="2.8" stroke-linejoin="miter" stroke-miterlimit="10"/>
<circle cx="417.7" cy="1458.3" r="12.4" fill="#ff0000"/>
</g>
<rect x="156.5" y="1024.4" width="509" height="486.5" fill="none" stroke="#000000" stroke-width="2.8"/>
<rect x="211.2" y="1500.4" width="9.3" height="21" fill="#000000"/>
<rect x="391.8" y="1500.4" width="9.3" height="21" fill="#000000"/>
<rect x="572.4" y="1500.4" width="9.3" height="21" fill="#000000"/>
<rect x="146" y="1046.8" width="21" height="9" fill="#000000"/>
<text x="136" y="1069.5" text-anchor="end" class="tl">0.0</text>
<rect x="146" y="1156.6" width="21" height="9" fill="#000000"/>
<text x="136" y="1179.3" text-anchor="end" class="tl">0.5</text>
<rect x="146" y="1266" width="21" height="9" fill="#000000"/>
<text x="136" y="1288.7" text-anchor="end" class="tl">1.0</text>
<rect x="146" y="1375.5" width="21" height="9" fill="#000000"/>
<text x="136" y="1398.2" text-anchor="end" class="tl">1.5</text>
<rect x="146" y="1485.3" width="21" height="9" fill="#000000"/>
<text x="136" y="1508" text-anchor="end" class="tl">2.0</text>
<text x="614" y="1073.5" text-anchor="end" class="tt">F115W-F150W</text>
<g clip-path="url(#c6)">
<path d="M840.3,1045.3 C841.4,1045.6 844.4,1046.7 846.7,1047.5 C849.1,1048.3 851.7,1049.3 854.4,1050.1 C857.1,1050.9 859.9,1051.5 862.9,1052 C865.8,1052.5 869.2,1052.6 872.2,1053.1 C875.1,1053.6 877.9,1053.9 880.7,1054.9 C883.4,1055.8 886,1057.3 888.7,1058.8 C891.4,1060.3 894,1062.4 896.8,1063.8 C899.6,1065.1 902.4,1066 905.3,1066.7 C908.2,1067.4 911.5,1067.5 914.2,1068.2 C916.8,1068.9 918.9,1069.7 921,1071 C923.2,1072.2 925.1,1073.9 927.1,1075.7 C929.1,1077.6 931.1,1079.5 933.1,1082 C935.2,1084.5 937.2,1087 939.2,1090.5 C941.2,1093.9 943.2,1097.9 945.2,1102.6 C947.3,1107.3 949.3,1112.8 951.3,1118.7 C953.3,1124.7 955.3,1131.4 957.4,1138.1 C959.4,1144.8 961.4,1151.8 963.4,1159.1 C965.4,1166.4 967.4,1174.5 969.3,1182.1 C971.1,1189.7 972.8,1197.4 974.5,1204.7 C976.2,1212.1 977.7,1218.6 979.4,1226.1 C981,1233.7 982.5,1240.4 984.4,1249.9 C986.3,1259.3 989,1273.2 990.9,1282.8 C992.8,1292.4 994.3,1299.9 995.9,1307.4 C997.6,1314.8 999.1,1320.8 1000.8,1327.6 C1002.4,1334.3 1004.1,1341.1 1005.8,1347.7 C1007.5,1354.4 1009.1,1361.1 1010.9,1367.5 C1012.6,1373.9 1014.3,1380 1016.1,1386.1 C1018,1392.2 1020,1398.4 1022,1404.3 C1023.9,1410.1 1026,1416.5 1028,1421.2 C1030,1426 1032,1430.2 1033.9,1432.7 C1035.8,1435.2 1037.4,1436.1 1039.3,1436.2 C1041.2,1436.2 1043.2,1434.6 1045.4,1432.9 C1047.6,1431.2 1049.5,1429.3 1052.4,1426.1 C1055.4,1422.9 1058.4,1419.2 1063.1,1413.8 C1067.7,1408.3 1075,1399.3 1080.6,1393.6 C1086.1,1387.9 1091.3,1383.9 1096.2,1379.6 C1101.2,1375.3 1105.7,1371.9 1110.4,1367.7 C1115.1,1363.6 1119.9,1359.2 1124.5,1354.8 C1129.1,1350.4 1133.9,1345.9 1138.2,1341.5 C1142.5,1337 1146.4,1332.3 1150.3,1328.2 C1154.2,1324 1157.6,1320.2 1161.6,1316.5 C1165.7,1312.8 1170.2,1309.2 1174.6,1306 C1178.9,1302.8 1183,1300.1 1187.9,1297.3 C1192.7,1294.5 1198,1291.9 1203.6,1289.2 C1209.3,1286.5 1215.1,1284 1221.8,1280.9 C1228.5,1277.9 1235.3,1274.8 1243.6,1270.9 C1251.9,1267 1262.1,1262 1271.7,1257.7 C1281.2,1253.3 1296.2,1246.9 1301.1,1244.7 L1301.1,1382.1 C1296.6,1383.3 1281.9,1387.3 1273.7,1389.5 C1265.4,1391.7 1258.7,1393.4 1251.7,1395.3 C1244.6,1397.1 1238.2,1398.8 1231.5,1400.5 C1224.8,1402.1 1218,1403.6 1211.3,1405.2 C1204.6,1406.7 1197.6,1408.1 1191.1,1409.9 C1184.6,1411.7 1178.1,1414.3 1172.1,1416.1 C1166.2,1417.9 1161.2,1419.8 1155.6,1420.8 C1149.9,1421.8 1143.5,1421.3 1138.2,1422 C1133,1422.6 1128.7,1423 1124.1,1424.9 C1119.5,1426.7 1115.1,1429.9 1110.4,1433.1 C1105.7,1436.4 1100.9,1440.4 1095.8,1444.4 C1090.7,1448.5 1085.1,1452.7 1079.8,1457.4 C1074.4,1462 1068.4,1468.4 1063.9,1472.3 C1059.3,1476.2 1055.9,1478.6 1052.6,1480.8 C1049.4,1483 1046.9,1484.4 1044.2,1485.6 C1041.4,1486.9 1038.8,1488.1 1036.1,1488.2 C1033.4,1488.4 1030.6,1488.1 1028,1486.4 C1025.4,1484.7 1022.7,1481.6 1020.3,1477.9 C1018,1474.3 1016,1469.4 1013.9,1464.4 C1011.8,1459.4 1009.8,1453.9 1007.8,1447.9 C1005.8,1441.9 1003.8,1435.1 1001.8,1428.5 C999.8,1421.9 997.8,1415 995.9,1408.3 C994.1,1401.6 992.4,1394.8 990.7,1388.1 C989,1381.4 987.3,1374.7 985.6,1367.9 C983.9,1361.2 982.3,1354.5 980.6,1347.7 C978.9,1341 977.2,1334.3 975.5,1327.6 C973.8,1320.8 972.3,1314.6 970.5,1307.4 C968.7,1300.2 966.9,1292.8 964.8,1284.4 C962.8,1276.1 960.1,1264.8 958.2,1257.2 C956.2,1249.5 954.8,1244.4 953.3,1238.6 C951.8,1232.9 950.6,1228.1 949.3,1222.9 C947.9,1217.7 946.6,1212.1 945.2,1207.2 C943.9,1202.2 942.6,1197.5 941.2,1193 C939.8,1188.5 938.5,1184.5 936.8,1180.1 C935.1,1175.7 933.1,1171 931.1,1166.8 C929.2,1162.5 927.1,1158.3 925.1,1154.7 C923,1151 921,1147.6 919,1144.8 C917,1142 915,1139.7 913,1137.7 C910.9,1135.8 908.9,1134.6 906.9,1133.1 C904.9,1131.6 902.9,1130.3 900.8,1128.8 C898.8,1127.4 896.9,1125.7 894.8,1124.2 C892.6,1122.7 890.6,1121.2 887.9,1119.7 C885.2,1118.3 881.9,1116.5 878.6,1115.6 C875.4,1114.7 871.9,1114.1 868.5,1114.3 C865.2,1114.5 861.7,1115.5 858.4,1116.8 C855.2,1118.2 851.8,1120.7 848.8,1122.4 C845.7,1124.1 841.7,1126.2 840.3,1127 Z" fill="#cccccc"/>
<line x1="869.8" y1="1112.1" x2="869.8" y2="1146.5" stroke="#0000ff" stroke-width="4.7"/>
<line x1="1063.5" y1="1370.3" x2="1099.5" y2="1370.3" stroke="#ff0000" stroke-width="4.7"/>
<line x1="1080.5" y1="1347.2" x2="1080.5" y2="1394.5" stroke="#ff0000" stroke-width="4.7"/>
<path d="M839.3,1086.6 C840.5,1086.2 844,1084.6 846.5,1083.9 C849.1,1083.2 851.8,1082.6 854.4,1082.2 C857.1,1081.9 859.8,1081.7 862.5,1081.6 C865.2,1081.5 867.9,1081.4 870.6,1081.8 C873.3,1082.1 875.9,1082.9 878.6,1083.9 C881.3,1085 884,1086.5 886.7,1088 C889.4,1089.4 892.1,1091.4 894.8,1092.7 C897.5,1094 900.2,1095 902.9,1095.8 C905.5,1096.6 908.2,1096.8 910.5,1097.8 C912.9,1098.7 914.9,1099.8 917,1101.5 C919.1,1103.2 921,1105.7 923,1108 C925.1,1110.4 927.1,1113.2 929.1,1115.7 C931.1,1118.3 933.1,1120.6 935,1123.4 C936.8,1126.2 938.5,1129.2 940.2,1132.7 C941.9,1136.1 943.5,1140.2 945,1144.2 C946.6,1148.2 947.9,1152.3 949.3,1156.7 C950.7,1161.1 952,1165.8 953.3,1170.4 C954.7,1175.1 956,1179.5 957.4,1184.5 C958.7,1189.6 960.1,1194.3 961.6,1200.5 C963.1,1206.7 964.8,1214.6 966.2,1221.5 C967.7,1228.4 969,1235.2 970.3,1241.7 C971.6,1248.2 972.5,1253.1 973.9,1260.4 C975.3,1267.6 976.9,1277.4 978.6,1285.2 C980.2,1293.1 982,1300.3 983.6,1307.4 C985.3,1314.4 986.9,1320.8 988.4,1327.6 C990,1334.3 991.3,1341 992.9,1347.7 C994.4,1354.5 996.1,1361.2 997.7,1367.9 C999.4,1374.7 1001.1,1381.4 1002.8,1388.1 C1004.5,1394.8 1006.2,1401.7 1008,1408.3 C1009.9,1414.9 1011.9,1421.8 1013.9,1427.7 C1015.9,1433.6 1017.9,1439.1 1019.9,1443.6 C1022,1448.1 1024,1451.9 1026,1454.7 C1028,1457.6 1030,1459.5 1032,1460.8 C1034.1,1462 1036,1462.3 1038.1,1462.2 C1040.2,1462.1 1042.2,1461.4 1044.6,1460 C1046.9,1458.6 1049.3,1456.8 1052.2,1453.9 C1055.2,1451.1 1057.9,1447.4 1062.2,1442.8 C1066.6,1438.3 1072.6,1431.7 1078.2,1426.7 C1083.7,1421.7 1090.1,1417.1 1095.4,1412.7 C1100.8,1408.4 1105.5,1404.8 1110.4,1400.8 C1115.3,1396.9 1119.9,1392.7 1124.9,1389.1 C1130,1385.6 1135.4,1382.8 1140.7,1379.6 C1145.9,1376.5 1151.4,1373.3 1156.4,1370.4 C1161.4,1367.4 1166.1,1364.6 1170.9,1361.9 C1175.8,1359.2 1180.3,1356.6 1185.5,1354.2 C1190.6,1351.8 1196,1349.9 1202,1347.7 C1208,1345.6 1214.8,1343.7 1221.4,1341.5 C1228,1339.3 1234.9,1337 1241.6,1334.6 C1248.3,1332.3 1254.9,1329.9 1261.8,1327.4 C1268.7,1325 1275.4,1322.4 1283,1319.9 C1290.5,1317.4 1303.2,1313.7 1307.2,1312.4" fill="none" stroke="#000000" stroke-width="5.9" stroke-linejoin="round" stroke-linecap="butt"/>
<path d="M869.8,1107.1 L864.8,1122.5 L848.6,1122.5 L861.7,1131.9 L856.7,1147.3 L869.8,1137.8 L882.8,1147.3 L877.8,1131.9 L890.9,1122.5 L874.7,1122.5Z" fill="#0000ff" stroke="#0000ff" stroke-width="2.8" stroke-linejoin="bevel"/>
<path d="M957,1182.3 L934.5,1227.3 L979.5,1227.3 Z" fill="#008000" stroke="#008000" stroke-width="2.8" stroke-linejoin="miter" stroke-miterlimit="10"/>
<circle cx="1080.5" cy="1370.3" r="12.4" fill="#ff0000"/>
</g>
<rect x="818.8" y="1024.4" width="509.2" height="486.5" fill="none" stroke="#000000" stroke-width="2.8"/>
<rect x="873.5" y="1500.4" width="9.3" height="21" fill="#000000"/>
<rect x="1054" y="1500.4" width="9.3" height="21" fill="#000000"/>
<rect x="1234.6" y="1500.4" width="9.3" height="21" fill="#000000"/>
<rect x="808.3" y="1044.8" width="21" height="9" fill="#000000"/>
<text x="798.3" y="1067.5" text-anchor="end" class="tl">0</text>
<rect x="808.3" y="1214" width="21" height="9" fill="#000000"/>
<text x="798.3" y="1236.7" text-anchor="end" class="tl">1</text>
<rect x="808.3" y="1383.1" width="21" height="9" fill="#000000"/>
<text x="798.3" y="1405.8" text-anchor="end" class="tl">2</text>
<text x="1276.5" y="1073.5" text-anchor="end" class="tt">F115W-F200W</text>
<g clip-path="url(#c7)">
<path d="M178.3,1616.8 C179.3,1615.8 182.2,1612.9 184.3,1610.8 C186.4,1608.6 188.4,1606.6 190.8,1604.1 C193.1,1601.6 195.8,1598.6 198.4,1595.6 C201.1,1592.7 203.8,1589.5 206.5,1586.3 C209.2,1583.2 211.9,1579.8 214.6,1576.9 C217.3,1573.9 220,1571.1 222.7,1568.8 C225.4,1566.4 228,1564.4 230.7,1562.7 C233.5,1561.1 236.3,1559.6 239.2,1558.8 C242.2,1557.9 245.6,1557.3 248.5,1557.7 C251.4,1558.1 254.2,1559.3 256.6,1561.2 C259,1563.1 261,1565.9 263,1569.2 C265.1,1572.5 267.1,1576.6 269.1,1580.9 C271.1,1585.2 273.1,1590 275.2,1595 C277.2,1600.1 279.2,1605.4 281.2,1611.2 C283.2,1616.9 285.2,1623 287.3,1629.3 C289.3,1635.7 291.3,1642.4 293.3,1649.1 C295.3,1655.8 297.4,1662.6 299.4,1669.7 C301.4,1676.8 303.4,1684.2 305.4,1691.9 C307.4,1699.6 309.4,1707.7 311.3,1715.7 C313.1,1723.7 314.8,1731.6 316.5,1740 C318.3,1748.4 320,1757 321.8,1766.1 C323.6,1775.3 325.6,1786.6 327.2,1795 C328.9,1803.5 330.3,1809.8 331.9,1816.8 C333.5,1823.7 335.1,1829.9 336.7,1836.5 C338.4,1843.1 340.1,1850 341.8,1856.3 C343.5,1862.6 345.1,1868.7 346.8,1874.5 C348.5,1880.3 350.2,1885.7 352.1,1891 C353.9,1896.4 355.9,1901.7 357.9,1906.8 C360,1911.8 362,1916.7 364.4,1921.3 C366.7,1926 369.3,1930.8 372,1934.6 C374.8,1938.5 377.6,1942.3 380.7,1944.7 C383.9,1947 387.1,1949.3 390.8,1948.9 C394.5,1948.6 397.9,1946.3 402.9,1942.6 C407.8,1939 415,1931.8 420.6,1927 C426.1,1922.1 431.3,1917.7 436.2,1913.7 C441.1,1909.6 445.6,1906.7 450,1902.8 C454.3,1898.8 458.4,1894.8 462.5,1890.2 C466.6,1885.7 470.6,1880.1 474.6,1875.3 C478.6,1870.5 482.5,1865.6 486.7,1861.6 C490.9,1857.5 494.9,1854.2 499.6,1851.1 C504.3,1847.9 509.6,1845.5 515,1842.8 C520.4,1840.1 525.9,1837.9 531.9,1835.1 C538,1832.3 544.7,1829.4 551.3,1826 C557.9,1822.7 564.8,1819 571.5,1814.9 C578.2,1810.9 584.7,1806.8 591.7,1801.8 C598.6,1796.9 605.4,1791.7 613.3,1785.1 C621.2,1778.5 634.8,1766 639.1,1762.2 L639.5,1893.1 C636.5,1894.9 627.7,1900.5 621.4,1904.2 C615.1,1907.8 608.4,1911.7 601.8,1915.1 C595.1,1918.5 588.3,1922 581.6,1924.6 C574.9,1927.1 568.1,1929.2 561.4,1930.5 C554.7,1931.9 547.8,1932.3 541.6,1932.7 C535.4,1933.1 529.4,1933 524.3,1933 C519.1,1933.1 515,1933 510.5,1933.2 C506.1,1933.4 501.6,1933.5 497.6,1934 C493.6,1934.5 490.3,1935 486.7,1936.3 C483.1,1937.7 480,1939.7 476.2,1942.3 C472.4,1945 468.4,1948.5 464.1,1952.2 C459.8,1955.9 455,1960.5 450.4,1964.7 C445.7,1969 441.2,1973.5 436.2,1977.6 C431.3,1981.8 426.2,1986.2 420.6,1989.6 C415,1993 407.7,1996.3 402.7,1998 C397.6,1999.7 394,1999.8 390.2,1999.8 C386.5,1999.9 383.5,1999.4 380.1,1998.2 C376.8,1997.1 373.3,1995.4 370,1993 C366.7,1990.5 363.4,1987.2 360.3,1983.5 C357.3,1979.8 354.6,1975.7 351.9,1971 C349.2,1966.3 346.5,1960.9 344.2,1955.2 C341.8,1949.6 339.8,1943.4 337.7,1937.1 C335.6,1930.7 333.7,1923.9 331.7,1917.3 C329.7,1910.6 327.6,1903.8 325.6,1897.1 C323.6,1890.4 321.6,1883.6 319.6,1876.9 C317.6,1870.2 315.6,1863.5 313.7,1856.7 C311.9,1850 310.1,1843.2 308.5,1836.5 C306.8,1829.9 305.2,1823.7 303.6,1816.8 C302,1809.8 300.6,1803.4 299,1794.8 C297.3,1786.3 295.3,1774.5 293.7,1765.5 C292.1,1756.6 290.7,1748.1 289.3,1741 C287.9,1733.8 286.7,1728.3 285.2,1722.6 C283.8,1716.9 282.5,1712.4 280.8,1706.9 C279.1,1701.3 277.1,1695.3 275.2,1689.5 C273.2,1683.6 271.1,1677.4 269.1,1671.7 C267.1,1666.1 265.1,1660.6 263,1655.6 C261,1650.6 259,1645.9 257,1641.9 C255,1637.8 253,1634.4 250.9,1631.6 C248.9,1628.7 246.9,1626.3 244.9,1624.7 C242.9,1623.1 240.8,1622.1 238.8,1621.9 C236.8,1621.6 234.8,1622.3 232.8,1623.1 C230.7,1623.9 228.9,1624.9 226.7,1626.5 C224.6,1628.1 222.5,1630.1 219.8,1632.8 C217.2,1635.4 213.9,1638.7 210.6,1642.3 C207.3,1645.8 203.6,1649.9 200.1,1654.2 C196.6,1658.4 192.5,1663.9 189.6,1667.7 C186.7,1671.5 184.6,1674.3 182.7,1676.8 C180.8,1679.2 179,1681.5 178.3,1682.4 Z" fill="#cccccc"/>
<line x1="207.3" y1="1621.9" x2="207.3" y2="1656.3" stroke="#0000ff" stroke-width="4.7"/>
<line x1="401.1" y1="1973.3" x2="437.5" y2="1973.3" stroke="#ff0000" stroke-width="4.7"/>
<line x1="417.7" y1="1951.9" x2="417.7" y2="1995.5" stroke="#ff0000" stroke-width="4.7"/>
<path d="M177.3,1652.1 C178.3,1650.9 181.2,1647.5 183.5,1644.7 C185.8,1641.9 188.2,1638.7 191,1635.2 C193.7,1631.7 197.1,1627.2 200.1,1623.7 C203,1620.1 205.8,1616.9 208.5,1613.8 C211.3,1610.7 213.9,1607.7 216.6,1604.9 C219.3,1602.1 222,1599.3 224.7,1597 C227.4,1594.8 230.1,1592.7 232.8,1591.4 C235.5,1590.1 238.2,1589.4 240.8,1589.4 C243.5,1589.3 246.2,1590 248.5,1591.2 C250.9,1592.4 252.9,1594.1 255,1596.4 C257.1,1598.8 259,1601.8 261,1605.3 C263,1608.8 265.1,1612.9 267.1,1617.2 C269.1,1621.6 271.1,1626.3 273.1,1631.4 C275.2,1636.4 277.2,1641.9 279.2,1647.5 C281.1,1653.1 283.2,1659.3 284.8,1664.9 C286.5,1670.4 287.8,1675.9 289.1,1681 C290.3,1686.1 291.3,1690.7 292.3,1695.5 C293.4,1700.4 294.3,1704.7 295.3,1710.1 C296.4,1715.4 297.2,1720.2 298.5,1727.6 C299.9,1735.1 301.3,1744.4 303.3,1754.6 C305.3,1764.9 308.4,1779.6 310.4,1789.2 C312.5,1798.8 314,1805.4 315.5,1812.3 C317,1819.2 318.2,1824.5 319.6,1830.5 C320.9,1836.5 322.2,1842.5 323.6,1848.2 C325,1854 326.3,1859.4 327.8,1865.2 C329.4,1871 331,1877 332.7,1883 C334.4,1889 336.1,1895.1 337.9,1901.1 C339.8,1907.2 341.8,1913.4 344,1919.3 C346.1,1925.2 348.5,1931.3 350.9,1936.7 C353.2,1942 355.6,1946.8 358.1,1951.2 C360.6,1955.6 363.3,1959.6 366,1962.9 C368.7,1966.2 371.3,1968.9 374.1,1971.1 C376.8,1973.2 379.5,1974.7 382.3,1975.7 C385.2,1976.6 388,1977.4 391.2,1976.9 C394.4,1976.4 397.7,1975.1 401.6,1972.6 C405.6,1970.1 410.8,1965.3 414.9,1961.9 C419.1,1958.5 422.6,1955.5 426.6,1952.2 C430.5,1948.9 434.4,1945.8 438.7,1942.3 C442.9,1938.8 447.6,1935.2 452,1931.2 C456.4,1927.3 460.5,1923 464.9,1918.7 C469.3,1914.4 473.9,1909.3 478.2,1905.6 C482.6,1901.9 486.6,1899 491.1,1896.5 C495.7,1894 500.2,1892.2 505.3,1890.6 C510.4,1888.9 515.8,1887.8 521.8,1886.4 C527.8,1884.9 534.6,1883.5 541.2,1881.7 C547.8,1879.9 554.9,1877.7 561.4,1875.5 C567.9,1873.3 574.5,1870.7 580,1868.2 C585.4,1865.8 589.5,1863.7 594.1,1861 C598.7,1858.2 603.3,1854.9 607.8,1851.7 C612.4,1848.5 617.2,1845 621.6,1841.8 C625.9,1838.6 629.9,1835.6 633.7,1832.7 C637.4,1829.8 642.4,1825.8 644.2,1824.4" fill="none" stroke="#000000" stroke-width="5.9" stroke-linejoin="round" stroke-linecap="butt"/>
<path d="M207.3,1616.9 L202.3,1632.2 L186.2,1632.2 L199.3,1641.7 L194.3,1657.1 L207.3,1647.6 L220.4,1657.1 L215.4,1641.7 L228.4,1632.2 L212.3,1632.2Z" fill="#0000ff" stroke="#0000ff" stroke-width="2.8" stroke-linejoin="bevel"/>
<path d="M294.9,1711.7 L272.4,1756.7 L317.4,1756.7 Z" fill="#008000" stroke="#008000" stroke-width="2.8" stroke-linejoin="miter" stroke-miterlimit="10"/>
<circle cx="417.7" cy="1973.3" r="12.4" fill="#ff0000"/>
</g>
<rect x="156.5" y="1535.9" width="509" height="486.1" fill="none" stroke="#000000" stroke-width="2.8"/>
<rect x="211.2" y="2011.5" width="9.3" height="21" fill="#000000"/>
<rect x="391.8" y="2011.5" width="9.3" height="21" fill="#000000"/>
<rect x="572.4" y="2011.5" width="9.3" height="21" fill="#000000"/>
<rect x="146" y="1545.7" width="21" height="9" fill="#000000"/>
<text x="136" y="1568.4" text-anchor="end" class="tl">−1</text>
<rect x="146" y="1662.4" width="21" height="9" fill="#000000"/>
<text x="136" y="1685.1" text-anchor="end" class="tl">0</text>
<rect x="146" y="1779.1" width="21" height="9" fill="#000000"/>
<text x="136" y="1801.8" text-anchor="end" class="tl">1</text>
<rect x="146" y="1895.7" width="21" height="9" fill="#000000"/>
<text x="136" y="1918.4" text-anchor="end" class="tl">2</text>
<rect x="146" y="2012.4" width="21" height="9" fill="#000000"/>
<text x="136" y="2035.1" text-anchor="end" class="tl">3</text>
<text x="614" y="1585" text-anchor="end" class="tt">F115W-F277W</text>
<g clip-path="url(#c8)">
<path d="M840.3,1675.4 C841,1675.7 843,1676.8 844.7,1677.4 C846.4,1677.9 848.4,1678.8 850.4,1678.6 C852.4,1678.4 854.5,1677.7 856.8,1676.2 C859.2,1674.7 861.9,1671.8 864.5,1669.5 C867.1,1667.3 869.8,1664.6 872.6,1662.6 C875.3,1660.7 878.1,1659.1 881.1,1657.6 C884,1656.1 887.4,1655.3 890.3,1653.8 C893.3,1652.2 896.1,1650.8 898.8,1648.5 C901.6,1646.2 904.2,1643.2 906.9,1639.8 C909.6,1636.5 912.3,1631.7 915,1628.3 C917.7,1625 920.4,1622.3 923,1619.8 C925.7,1617.4 928.4,1615.2 930.7,1613.6 C933.1,1612 935.1,1610.9 937.2,1610.4 C939.3,1609.8 941.2,1609.7 943.2,1610.4 C945.2,1611 947.3,1612.1 949.3,1614.2 C951.3,1616.3 953.4,1619.8 955.1,1622.9 C956.9,1625.9 958.6,1629.4 960,1632.6 C961.4,1635.7 962.4,1638.4 963.6,1641.9 C964.9,1645.3 966.1,1649.3 967.5,1653.6 C968.8,1657.8 970.1,1662.6 971.5,1667.3 C972.8,1672 974.2,1676.8 975.5,1681.8 C976.9,1686.9 978.2,1692.2 979.6,1697.6 C980.9,1702.9 982.3,1708.3 983.6,1713.7 C984.9,1719.1 986.3,1724.5 987.6,1729.9 C989,1735.2 990.3,1740.1 991.7,1746 C993.1,1751.9 994.5,1757.8 996.1,1765.3 C997.7,1772.9 999.8,1783.6 1001.4,1791.4 C1003,1799.2 1004.4,1805.8 1005.8,1812.3 C1007.2,1818.8 1008.5,1824.4 1009.8,1830.5 C1011.2,1836.5 1012.5,1842.6 1013.9,1848.7 C1015.3,1854.7 1016.6,1860.8 1018.3,1866.8 C1020,1872.8 1022,1878.9 1024,1884.6 C1025.9,1890.2 1028,1895.9 1030,1900.7 C1032,1905.6 1034.1,1910.5 1036.1,1913.7 C1038.1,1916.9 1040.1,1919.1 1042.1,1920 C1044.2,1920.8 1046.1,1919.8 1048.2,1918.6 C1050.3,1917.3 1052,1916 1054.7,1912.4 C1057.3,1908.9 1060.1,1904.4 1063.9,1897.1 C1067.6,1889.8 1073,1876.2 1077.3,1868.8 C1081.7,1861.5 1086,1857.1 1090.2,1853.1 C1094.3,1849.1 1098.3,1847.4 1102.3,1844.8 C1106.3,1842.2 1110.3,1840 1114,1837.3 C1117.7,1834.7 1121.1,1832 1124.5,1828.7 C1127.9,1825.3 1131.2,1821.3 1134.6,1817.2 C1138,1813 1140.7,1808.7 1144.7,1803.6 C1148.7,1798.6 1152.4,1792.8 1158.4,1786.9 C1164.5,1781.1 1173.8,1773.7 1181,1768.6 C1188.2,1763.5 1194.9,1759.9 1201.6,1756.3 C1208.3,1752.8 1214.7,1750 1221.4,1747.2 C1228.1,1744.4 1234.9,1741.7 1241.6,1739.4 C1248.3,1737 1255.4,1734.9 1261.8,1733.2 C1268.2,1731.4 1274.9,1729.9 1279.9,1728.9 C1285,1727.9 1288.3,1727.5 1291.8,1727.2 C1295.4,1727 1299.6,1727.4 1301.1,1727.4 L1301.1,1928.4 C1299,1928 1293.6,1926.6 1288.6,1926.2 C1283.7,1925.8 1277.6,1925.6 1271.5,1925.8 C1265.3,1925.9 1258.3,1926.5 1251.7,1927.2 C1245,1928 1238.2,1928.9 1231.5,1930.2 C1224.8,1931.4 1217.8,1932.9 1211.3,1934.5 C1204.8,1936.1 1198.1,1937.8 1192.3,1939.7 C1186.5,1941.6 1181.6,1944 1176.6,1946 C1171.5,1947.9 1166.4,1950.9 1162,1951.6 C1157.7,1952.3 1154.2,1951.8 1150.3,1950.4 C1146.4,1949 1142.6,1945.7 1138.6,1943.1 C1134.7,1940.5 1130.5,1936.7 1126.5,1934.6 C1122.6,1932.6 1118.6,1931 1114.8,1930.6 C1111,1930.2 1107.7,1931 1103.9,1932.2 C1100.1,1933.5 1096.4,1934.8 1092.2,1938.1 C1088,1941.3 1083.6,1945.3 1079,1951.8 C1074.3,1958.3 1068.3,1970.3 1064.3,1976.8 C1060.2,1983.4 1057.4,1987.7 1054.7,1991.2 C1051.9,1994.6 1050.2,1996.1 1047.8,1997.4 C1045.4,1998.7 1042.7,1999.8 1040.1,1999 C1037.6,1998.2 1034.8,1995.8 1032.5,1992.6 C1030.1,1989.3 1028.1,1984.3 1026,1979.5 C1023.9,1974.6 1022,1969 1019.9,1963.3 C1017.9,1957.7 1015.9,1951.6 1013.9,1945.5 C1011.9,1939.5 1009.8,1933.4 1007.8,1927 C1005.8,1920.6 1003.8,1913.8 1001.8,1907.2 C999.8,1900.6 997.8,1893.8 995.9,1887.4 C994.1,1881 992.3,1874.9 990.7,1868.8 C989,1862.8 987.3,1856.8 985.8,1851.1 C984.3,1845.4 983,1840.5 981.6,1834.5 C980.2,1828.6 978.8,1822.7 977.3,1815.4 C975.9,1808 974.3,1798.4 972.7,1790.4 C971.1,1782.5 969.7,1776.3 967.9,1767.9 C966,1759.5 963.7,1747.9 961.6,1739.9 C959.5,1732 957.4,1725.7 955.3,1720.2 C953.3,1714.7 951.3,1710.5 949.3,1706.9 C947.3,1703.2 945.2,1700.4 943.2,1698.5 C941.2,1696.5 939.3,1695.4 937.2,1695 C935.1,1694.6 933.1,1695.2 930.7,1696 C928.4,1696.9 925.7,1698.3 923,1700 C920.4,1701.7 917.7,1703.8 915,1706 C912.3,1708.3 909.6,1711.2 906.9,1713.7 C904.2,1716.2 901.6,1718.9 898.8,1721 C896.1,1723 893.3,1724.3 890.3,1726 C887.4,1727.7 884,1729.2 881.1,1731.3 C878.1,1733.4 875.3,1735.6 872.6,1738.5 C869.8,1741.5 867.2,1744.5 864.5,1748.8 C861.8,1753.2 859.1,1758.5 856.4,1764.7 C853.7,1770.9 851,1780.1 848.4,1786.1 C845.7,1792.2 841.6,1798.7 840.3,1801.2 Z" fill="#cccccc"/>
<line x1="869.8" y1="1592.6" x2="869.8" y2="1660" stroke="#0000ff" stroke-width="4.7"/>
<line x1="912.5" y1="1581.3" x2="912.5" y2="1649.1" stroke="#0000ff" stroke-width="4.7"/>
<line x1="942.4" y1="1557.5" x2="942.4" y2="1624.9" stroke="#0000ff" stroke-width="4.7"/>
<line x1="957" y1="1590.6" x2="957" y2="1655.2" stroke="#008000" stroke-width="4.7"/>
<line x1="999.8" y1="1802.5" x2="999.8" y2="1871.2" stroke="#008000" stroke-width="4.7"/>
<line x1="1029.6" y1="1897.4" x2="1029.6" y2="1968.1" stroke="#008000" stroke-width="4.7"/>
<line x1="1063.5" y1="1726.6" x2="1099.5" y2="1726.6" stroke="#ff0000" stroke-width="4.7"/>
<line x1="1080.5" y1="1691.5" x2="1080.5" y2="1763" stroke="#ff0000" stroke-width="4.7"/>
<line x1="1105.9" y1="1789.6" x2="1142.3" y2="1789.6" stroke="#ff0000" stroke-width="4.7"/>
<line x1="1123.3" y1="1746" x2="1123.3" y2="1832" stroke="#ff0000" stroke-width="4.7"/>
<line x1="1136.2" y1="1911.5" x2="1172.1" y2="1911.5" stroke="#ff0000" stroke-width="4.7"/>
<line x1="1153.2" y1="1865.9" x2="1153.2" y2="1958.8" stroke="#ff0000" stroke-width="4.7"/>
<path d="M839.3,1738.9 C840.5,1738.3 844,1736.8 846.5,1734.9 C849.1,1733 851.8,1730.4 854.4,1727.4 C857.1,1724.5 859.8,1720.9 862.5,1717.3 C865.2,1713.8 867.9,1709.6 870.6,1706.2 C873.3,1702.9 875.9,1699.7 878.6,1697.2 C881.3,1694.7 884.1,1692.8 886.7,1691.3 C889.3,1689.8 892,1689.4 894.4,1688.3 C896.7,1687.2 898.8,1686.4 900.8,1684.8 C902.9,1683.3 904.9,1681.2 906.9,1679 C908.9,1676.8 910.9,1673.8 913,1671.5 C915,1669.2 917.1,1666.9 919.2,1665.1 C921.4,1663.2 923.7,1662.2 925.9,1660.6 C928,1659.1 930.1,1657 932.1,1655.7 C934.1,1654.3 936.1,1652.8 938,1652.6 C939.9,1652.4 941.5,1652.8 943.4,1654.4 C945.3,1656.1 947.3,1658.9 949.3,1662.4 C951.3,1666 953.3,1670.8 955.3,1675.8 C957.4,1680.7 959.4,1686.3 961.4,1692.3 C963.4,1698.4 965.5,1705.2 967.5,1712.1 C969.4,1719 971.5,1726.2 973.3,1733.9 C975.2,1741.6 976.9,1749.7 978.6,1758.5 C980.2,1767.2 981.9,1778.6 983.4,1786.5 C984.9,1794.5 986.3,1800.3 987.6,1806.3 C989,1812.2 990.3,1816.8 991.7,1822.4 C993.1,1828.1 994.4,1833.8 995.9,1840.2 C997.4,1846.6 999.1,1854.6 1000.6,1860.8 C1002,1866.9 1003.4,1871.9 1004.8,1876.9 C1006.2,1882 1007.5,1886.3 1008.8,1891 C1010.2,1895.8 1011.5,1900.5 1012.9,1905.2 C1014.2,1909.9 1015.5,1914.5 1016.9,1919.3 C1018.3,1924.1 1019.6,1929 1021.1,1933.8 C1022.7,1938.7 1024.3,1944.3 1026.2,1948.4 C1028.1,1952.4 1030.1,1956.1 1032.5,1958.3 C1034.8,1960.4 1037.5,1961.5 1040.1,1961.3 C1042.7,1961.1 1045.5,1959.7 1048.2,1957.3 C1050.9,1954.8 1053.3,1951.2 1056.3,1946.6 C1059.2,1941.9 1062,1935.8 1065.9,1929.4 C1069.7,1923 1074.9,1914 1079.4,1908.2 C1083.8,1902.4 1088.1,1898.3 1092.6,1894.7 C1097.1,1891.1 1101.8,1888.8 1106.3,1886.6 C1110.8,1884.4 1115.6,1882.8 1119.7,1881.6 C1123.8,1880.3 1127.1,1879.9 1131,1878.9 C1134.8,1878 1138.7,1877.4 1142.7,1875.9 C1146.6,1874.4 1150.7,1872.1 1154.8,1869.8 C1158.9,1867.6 1162.9,1865 1167.3,1862.6 C1171.7,1860.1 1176.3,1857.4 1181,1855.1 C1185.7,1852.8 1190.5,1850.7 1195.6,1848.7 C1200.6,1846.6 1206,1844.6 1211.3,1842.6 C1216.6,1840.6 1222,1838.6 1227.5,1836.9 C1232.9,1835.1 1238.4,1833.6 1244,1832.3 C1249.7,1830.9 1255.8,1829.7 1261.4,1828.8 C1267,1827.9 1272.4,1827.2 1277.5,1826.9 C1282.7,1826.5 1287.3,1826.5 1292.3,1826.4 C1297.2,1826.4 1304.7,1826.4 1307.2,1826.4" fill="none" stroke="#000000" stroke-width="5.9" stroke-linejoin="round" stroke-linecap="butt"/>
<path d="M869.8,1605.2 L864.8,1620.5 L848.6,1620.5 L861.7,1630 L856.7,1645.4 L869.8,1635.9 L882.8,1645.4 L877.8,1630 L890.9,1620.5 L874.7,1620.5Z" fill="#0000ff" stroke="#0000ff" stroke-width="2.8" stroke-linejoin="bevel"/>
<path d="M912.5,1594.3 L907.6,1609.6 L891.4,1609.6 L904.5,1619.1 L899.5,1634.5 L912.5,1625 L925.6,1634.5 L920.6,1619.1 L933.7,1609.6 L917.5,1609.6Z" fill="#0000ff" stroke="#0000ff" stroke-width="2.8" stroke-linejoin="bevel"/>
<path d="M942.4,1569.7 L937.4,1585 L921.3,1585 L934.4,1594.5 L929.4,1609.8 L942.4,1600.3 L955.5,1609.8 L950.5,1594.5 L963.5,1585 L947.4,1585Z" fill="#0000ff" stroke="#0000ff" stroke-width="2.8" stroke-linejoin="bevel"/>
<path d="M957,1598 L934.5,1643 L979.5,1643 Z" fill="#008000" stroke="#008000" stroke-width="2.8" stroke-linejoin="miter" stroke-miterlimit="10"/>
<path d="M999.8,1815.2 L977.3,1860.2 L1022.3,1860.2 Z" fill="#008000" stroke="#008000" stroke-width="2.8" stroke-linejoin="miter" stroke-miterlimit="10"/>
<path d="M1029.6,1911.3 L1007.1,1956.3 L1052.1,1956.3 Z" fill="#008000" stroke="#008000" stroke-width="2.8" stroke-linejoin="miter" stroke-miterlimit="10"/>
<circle cx="1080.5" cy="1726.6" r="12.4" fill="#ff0000"/>
<circle cx="1123.3" cy="1789.6" r="12.4" fill="#ff0000"/>
<circle cx="1153.2" cy="1911.5" r="12.4" fill="#ff0000"/>
</g>
<rect x="818.8" y="1535.9" width="509.2" height="486.1" fill="none" stroke="#000000" stroke-width="2.8"/>
<rect x="873.5" y="2011.5" width="9.3" height="21" fill="#000000"/>
<rect x="1054" y="2011.5" width="9.3" height="21" fill="#000000"/>
<rect x="1234.6" y="2011.5" width="9.3" height="21" fill="#000000"/>
<rect x="808.3" y="1551.8" width="21" height="9" fill="#000000"/>
<text x="798.3" y="1574.5" text-anchor="end" class="tl">−0.5</text>
<rect x="808.3" y="1708.8" width="21" height="9" fill="#000000"/>
<text x="798.3" y="1731.5" text-anchor="end" class="tl">0.0</text>
<rect x="808.3" y="1866.3" width="21" height="9" fill="#000000"/>
<text x="798.3" y="1889" text-anchor="end" class="tl">0.5</text>
<text x="1276.5" y="1585" text-anchor="end" class="tt">F150W-F200W</text>
<g clip-path="url(#c9)">
<path d="M178.3,2209.6 C179.3,2207.2 182.2,2200.3 184.3,2195.4 C186.4,2190.6 188.4,2185.9 190.8,2180.5 C193.1,2175.1 195.8,2169 198.4,2163.1 C201.1,2157.2 203.8,2151 206.5,2145.2 C209.2,2139.4 211.9,2133.7 214.6,2128.2 C217.3,2122.8 220,2117.5 222.7,2112.5 C225.3,2107.4 228,2102 230.3,2097.7 C232.7,2093.5 234.6,2090 236.8,2087 C239,2084 241,2081.8 243.3,2079.8 C245.5,2077.8 248.2,2076 250.5,2075.1 C252.8,2074.2 254.9,2073.7 257,2074.3 C259.1,2074.9 261.1,2076.3 263,2078.6 C265,2080.8 266.9,2084.2 268.7,2087.6 C270.4,2091.1 271.8,2094.9 273.5,2099.1 C275.3,2103.4 277.2,2108.1 279.2,2113.1 C281.1,2118.1 283.2,2123.6 285.2,2129.2 C287.3,2134.9 289.3,2141.1 291.3,2147 C293.3,2152.9 295.3,2158.7 297.4,2164.8 C299.4,2170.8 301.4,2176.1 303.6,2183.2 C305.7,2190.3 308,2199.1 310.3,2207.3 C312.5,2215.5 314.9,2224.9 317.1,2232.4 C319.2,2240 321.4,2246.5 323.4,2252.8 C325.4,2259.1 327.4,2264.8 329,2270.2 C330.6,2275.6 331.6,2279.6 333.1,2285 C334.6,2290.4 336.2,2295.8 337.9,2302.5 C339.7,2309.2 341.8,2316.6 343.8,2325.1 C345.8,2333.6 347.8,2345.1 349.8,2353.4 C351.9,2361.7 353.9,2368.3 355.9,2374.8 C357.9,2381.3 359.9,2387 362,2392.5 C364,2398.1 366,2403.6 368,2408.3 C370,2412.9 372,2417 374.1,2420.4 C376.1,2423.8 378.1,2426.5 380.3,2428.9 C382.5,2431.3 384.9,2433.4 387.2,2434.7 C389.5,2436 391.9,2437 394.1,2436.8 C396.2,2436.5 398.1,2435.3 400.3,2433.1 C402.6,2430.9 404.5,2428.1 407.5,2423.6 C410.5,2419.2 414.4,2411 418.2,2406.5 C421.9,2402 426.2,2399 430.2,2396.6 C434.1,2394.2 438.2,2393.7 441.9,2392.1 C445.6,2390.6 449,2389.9 452.4,2387.5 C455.8,2385.1 459.1,2381.7 462.5,2377.6 C465.8,2373.5 469.1,2367.9 472.6,2363.1 C476,2358.3 479.2,2353.2 483.1,2348.7 C486.9,2344.3 490.9,2340 495.6,2336.4 C500.2,2332.9 505.7,2330.3 510.9,2327.5 C516.2,2324.8 521.7,2322.7 527.1,2320.1 C532.5,2317.5 537,2315.6 543.2,2312 C549.5,2308.4 555.6,2304.8 564.6,2298.3 C573.6,2291.9 587.9,2280.9 597.3,2273.5 C606.8,2266.1 614.4,2260 621.4,2254.2 C628.3,2248.4 636.2,2241.4 639.1,2238.8 L639.5,2409.1 C636.5,2410.8 627.7,2416 621.4,2419.6 C615.1,2423.2 608.4,2427.4 601.8,2430.7 C595.1,2434 588.3,2437.2 581.6,2439.4 C574.9,2441.5 568.1,2442.8 561.4,2443.5 C554.7,2444.2 547.9,2443.9 541.6,2443.7 C535.3,2443.4 529.1,2442.8 523.4,2442.2 C517.8,2441.6 512.5,2440.6 507.7,2440 C502.9,2439.5 499,2438.8 494.8,2438.8 C490.6,2438.8 486.7,2438.9 482.7,2439.9 C478.6,2440.9 474.6,2442.7 470.6,2444.7 C466.5,2446.8 462.5,2449.3 458.4,2452.1 C454.4,2454.9 450.4,2458.3 446.3,2461.6 C442.3,2464.9 438.6,2468.4 434.2,2472.1 C429.9,2475.7 425.4,2480.1 420.2,2483.5 C415,2486.8 407.7,2490.5 403.1,2492.3 C398.4,2494.2 395.4,2494.4 392.2,2494.6 C389.1,2494.7 386.9,2494.2 384.2,2493.1 C381.5,2492 378.8,2490.3 376.1,2488 C373.4,2485.7 370.7,2482.7 368,2479.1 C365.3,2475.6 362.6,2471.4 359.9,2466.8 C357.3,2462.2 354.6,2456.8 352.3,2451.5 C349.9,2446.2 347.9,2440.7 345.8,2434.9 C343.7,2429.2 341.8,2423.2 339.8,2417.2 C337.7,2411.2 335.7,2405.1 333.7,2399 C331.7,2393 329.7,2386.9 327.6,2380.8 C325.6,2374.8 323.6,2368.5 321.6,2362.7 C319.6,2356.8 317.6,2351.2 315.8,2345.7 C313.9,2340.1 312.3,2335.7 310.5,2329.3 C308.7,2322.9 306.7,2314.2 304.8,2307.2 C303,2300.1 301.1,2293.4 299.3,2287 C297.5,2280.5 295.9,2274.5 294.2,2268.3 C292.5,2262.1 290.9,2256.2 289.3,2249.7 C287.6,2243.2 285.9,2236.9 284.1,2229.6 C282.2,2222.2 280.2,2213.1 278,2205.4 C275.9,2197.8 273.5,2189.6 271.3,2183.6 C269.2,2177.6 267.1,2173.6 265.1,2169.6 C263,2165.6 261,2162.4 259,2159.7 C257,2157 255,2154.5 253,2153.2 C250.9,2151.8 248.8,2151.3 246.5,2151.8 C244.1,2152.3 241.4,2153.8 238.8,2156.2 C236.2,2158.6 233.4,2162 230.7,2166.4 C228.1,2170.7 225.4,2176.3 222.7,2182.1 C220,2188 217.3,2194.9 214.6,2201.5 C211.9,2208.1 209.2,2215 206.5,2221.7 C203.8,2228.3 201.1,2235.2 198.4,2241.5 C195.8,2247.7 193.1,2253.8 190.8,2259.2 C188.4,2264.6 186.4,2269.3 184.3,2274 C182.2,2278.6 179.3,2285.1 178.3,2287.3 Z" fill="#cccccc"/>
<line x1="207.3" y1="2098.5" x2="207.3" y2="2151.8" stroke="#0000ff" stroke-width="4.7"/>
<line x1="250.1" y1="2069.5" x2="250.1" y2="2122.8" stroke="#0000ff" stroke-width="4.7"/>
<line x1="280" y1="2132.9" x2="280" y2="2187.4" stroke="#0000ff" stroke-width="4.7"/>
<line x1="294.9" y1="2159.1" x2="294.9" y2="2185.7" stroke="#008000" stroke-width="4.7"/>
<line x1="337.3" y1="2279" x2="337.3" y2="2333.9" stroke="#008000" stroke-width="4.7"/>
<line x1="367.6" y1="2394.5" x2="367.6" y2="2449" stroke="#008000" stroke-width="4.7"/>
<line x1="401.1" y1="2424.8" x2="437.5" y2="2424.8" stroke="#ff0000" stroke-width="4.7"/>
<line x1="417.7" y1="2397.3" x2="417.7" y2="2444.9" stroke="#ff0000" stroke-width="4.7"/>
<line x1="443.9" y1="2461.1" x2="480.2" y2="2461.1" stroke="#ff0000" stroke-width="4.7"/>
<line x1="460.9" y1="2430.8" x2="460.9" y2="2491.4" stroke="#ff0000" stroke-width="4.7"/>
<line x1="474.2" y1="2478" x2="510.5" y2="2478" stroke="#ff0000" stroke-width="4.7"/>
<line x1="491.1" y1="2446.6" x2="491.1" y2="2510.3" stroke="#ff0000" stroke-width="4.7"/>
<path d="M178.3,2248.9 C179.3,2246.8 182.4,2240.8 184.7,2236 C187.1,2231.3 189.8,2225.9 192.4,2220.5 C195,2215 197.8,2209.2 200.5,2203.3 C203.2,2197.4 205.8,2191.2 208.5,2184.9 C211.2,2178.6 213.9,2171.8 216.6,2165.6 C219.3,2159.3 222,2153 224.7,2147.4 C227.4,2141.7 230.1,2136.3 232.8,2131.6 C235.5,2127 238.2,2122.8 240.8,2119.7 C243.5,2116.7 246.2,2114.3 248.5,2113.5 C250.9,2112.6 252.9,2113.4 255,2114.7 C257.1,2116 259,2118.6 261,2121.4 C263,2124.1 265.1,2127.6 267.1,2131.2 C269.1,2134.9 271.1,2139 273.1,2143.4 C275.2,2147.7 277.2,2152.4 279.2,2157.5 C281.2,2162.6 283.3,2168.1 285.2,2174 C287.2,2180 289.2,2186.8 290.8,2193.2 C292.4,2199.6 293.6,2205.9 295.1,2212.3 C296.7,2218.8 298.2,2225 299.9,2231.7 C301.7,2238.3 303.5,2245.5 305.4,2252.2 C307.3,2258.8 309.2,2265.2 311.1,2271.4 C313,2277.6 315.1,2283.4 317,2289.4 C318.8,2295.4 320.6,2301.1 322.4,2307.5 C324.2,2313.8 326.2,2321.5 327.9,2327.4 C329.5,2333.2 330.8,2337 332.3,2342.6 C333.8,2348.3 335.2,2355.3 336.8,2361.4 C338.4,2367.4 340.1,2373.3 341.8,2378.8 C343.4,2384.4 345.1,2389.5 346.8,2394.6 C348.5,2399.6 350.2,2404.3 352.1,2409.1 C353.9,2413.9 355.9,2418.5 357.9,2423.2 C360,2428 362,2433 364.4,2437.8 C366.7,2442.6 369.4,2448.1 372,2452.1 C374.7,2456.1 377.4,2459.3 380.1,2461.6 C382.8,2463.9 385.5,2465.1 388.2,2465.9 C390.9,2466.7 393.3,2467.1 396.3,2466.4 C399.2,2465.6 402.1,2464.2 405.9,2461.5 C409.7,2458.8 414.9,2453.8 419,2450.1 C423,2446.3 426.5,2442.3 430.2,2439 C433.9,2435.7 437.1,2433.2 441.1,2430.3 C445.1,2427.4 449.8,2424.8 454,2421.6 C458.2,2418.4 462.4,2414.6 466.1,2411.1 C469.8,2407.6 473,2403.8 476.2,2400.6 C479.4,2397.5 482,2394.7 485.5,2392.2 C489,2389.8 493,2387.6 497.2,2386 C501.4,2384.5 506.2,2383.7 510.9,2382.9 C515.6,2382.1 520.3,2382.1 525.5,2381.4 C530.6,2380.6 536,2379.7 542,2378.2 C548,2376.7 555,2374.5 561.4,2372.2 C567.8,2369.8 574.7,2366.7 580.4,2363.9 C586.1,2361.1 590.8,2358.3 595.7,2355.2 C600.6,2352.1 605.2,2348.7 609.8,2345.3 C614.5,2341.9 619.3,2338 623.6,2334.8 C627.8,2331.6 631.8,2328.6 635.3,2326.1 C638.7,2323.7 642.7,2321.3 644.2,2320.3" fill="none" stroke="#000000" stroke-width="5.9" stroke-linejoin="round" stroke-linecap="butt"/>
<path d="M207.3,2102.5 L202.3,2117.8 L186.2,2117.8 L199.3,2127.3 L194.3,2142.7 L207.3,2133.2 L220.4,2142.7 L215.4,2127.3 L228.4,2117.8 L212.3,2117.8Z" fill="#0000ff" stroke="#0000ff" stroke-width="2.8" stroke-linejoin="bevel"/>
<path d="M250.1,2073.8 L245.1,2089.1 L229,2089.1 L242.1,2098.6 L237.1,2114 L250.1,2104.5 L263.2,2114 L258.2,2098.6 L271.2,2089.1 L255.1,2089.1Z" fill="#0000ff" stroke="#0000ff" stroke-width="2.8" stroke-linejoin="bevel"/>
<path d="M280,2138.2 L275,2153.5 L258.9,2153.5 L271.9,2163 L267,2178.4 L280,2168.9 L293,2178.4 L288.1,2163 L301.1,2153.5 L285,2153.5Z" fill="#0000ff" stroke="#0000ff" stroke-width="2.8" stroke-linejoin="bevel"/>
<path d="M294.9,2164.1 L272.4,2209.1 L317.4,2209.1 Z" fill="#008000" stroke="#008000" stroke-width="2.8" stroke-linejoin="miter" stroke-miterlimit="10"/>
<path d="M337.3,2283.6 L314.8,2328.6 L359.8,2328.6 Z" fill="#008000" stroke="#008000" stroke-width="2.8" stroke-linejoin="miter" stroke-miterlimit="10"/>
<path d="M367.6,2399.1 L345.1,2444.1 L390.1,2444.1 Z" fill="#008000" stroke="#008000" stroke-width="2.8" stroke-linejoin="miter" stroke-miterlimit="10"/>
<circle cx="417.7" cy="2424.8" r="12.4" fill="#ff0000"/>
<circle cx="460.9" cy="2461.1" r="12.4" fill="#ff0000"/>
<circle cx="491.1" cy="2478" r="12.4" fill="#ff0000"/>
</g>
<rect x="156.5" y="2047.1" width="509" height="486.3" fill="none" stroke="#000000" stroke-width="2.8"/>
<rect x="211.2" y="2522.9" width="9.3" height="21" fill="#000000"/>
<rect x="391.8" y="2522.9" width="9.3" height="21" fill="#000000"/>
<rect x="572.4" y="2522.9" width="9.3" height="21" fill="#000000"/>
<rect x="146" y="2119.5" width="21" height="9" fill="#000000"/>
<text x="136" y="2142.2" text-anchor="end" class="tl">−1</text>
<rect x="146" y="2289" width="21" height="9" fill="#000000"/>
<text x="136" y="2311.7" text-anchor="end" class="tl">0</text>
<rect x="146" y="2458.6" width="21" height="9" fill="#000000"/>
<text x="136" y="2481.3" text-anchor="end" class="tl">1</text>
<text x="614" y="2096.2" text-anchor="end" class="tt">F150W-F277W</text>
<text x="215.8" y="2591" text-anchor="middle" class="tl">0</text>
<text x="396.4" y="2591" text-anchor="middle" class="tl">100</text>
<text x="577" y="2591" text-anchor="middle" class="tl">200</text>
<g clip-path="url(#c10)">
<path d="M840.3,2183.3 C841.4,2182.1 844.4,2178.7 846.7,2176.3 C849.1,2173.8 851.8,2171.6 854.4,2168.6 C857,2165.6 859.9,2162.3 862.5,2158.3 C865.1,2154.3 867.8,2149.5 870.2,2144.6 C872.5,2139.7 874.5,2134.1 876.6,2128.8 C878.7,2123.5 880.7,2118.1 882.7,2112.7 C884.7,2107.3 886.7,2101.6 888.7,2096.5 C890.7,2091.4 892.7,2086 894.8,2082.2 C896.9,2078.4 899,2075.9 901.2,2073.8 C903.5,2071.7 906.2,2070.3 908.5,2069.7 C910.8,2069.2 912.9,2069.3 915,2070.6 C917.1,2071.8 919,2074.2 921,2077.3 C923,2080.5 925.1,2084.6 927.1,2089.3 C929.1,2093.9 931.1,2099.5 933.1,2105.4 C935.2,2111.3 937.2,2118.2 939.2,2124.8 C941.2,2131.4 943.2,2138.2 945.2,2145 C947.3,2151.7 949.3,2158.6 951.3,2165.2 C953.3,2171.7 955.3,2178.6 957.4,2184.5 C959.4,2190.5 961.4,2195.9 963.4,2200.7 C965.4,2205.5 967.5,2209.4 969.5,2213.2 C971.5,2217 973.5,2220.2 975.5,2223.3 C977.5,2226.4 979.6,2229 981.6,2231.8 C983.6,2234.5 985.5,2237 987.6,2239.8 C989.8,2242.7 991.9,2245.4 994.5,2248.7 C997.1,2252.1 1000.4,2256.2 1003.4,2260 C1006.3,2263.8 1008.9,2267.6 1012.3,2271.5 C1015.6,2275.5 1019.3,2278.6 1023.6,2283.6 C1027.8,2288.5 1033.9,2295.5 1037.7,2301.2 C1041.5,2306.9 1043.7,2312.7 1046.2,2317.9 C1048.7,2323 1049.9,2328.2 1052.6,2332 C1055.4,2335.8 1058.4,2339.7 1062.7,2340.5 C1066.9,2341.2 1073.6,2338.3 1078.2,2336.4 C1082.7,2334.5 1086.4,2331.1 1090.2,2329.1 C1093.9,2327.1 1097.1,2325.7 1100.7,2324.5 C1104.2,2323.3 1108.3,2323.1 1111.6,2321.8 C1114.9,2320.5 1117.4,2320 1120.5,2316.6 C1123.6,2313.3 1126.3,2308.6 1130.2,2301.8 C1134.1,2295 1139.4,2283 1143.9,2275.9 C1148.4,2268.8 1152.6,2262.9 1157.2,2259.2 C1161.8,2255.5 1166.2,2255 1171.3,2253.6 C1176.4,2252.1 1181.9,2252.2 1187.9,2250.5 C1193.9,2248.9 1200.7,2246.4 1207.3,2243.5 C1213.9,2240.6 1220.9,2237 1227.5,2233 C1234,2228.9 1240.8,2224.3 1246.8,2219.3 C1252.9,2214.2 1258.4,2208.6 1263.8,2202.7 C1269.2,2196.8 1274.6,2189.9 1279.1,2184.1 C1283.7,2178.3 1287.7,2172.8 1291.2,2168 C1294.7,2163.1 1298.6,2157.2 1300.1,2155.1 L1301.1,2386.9 C1298.8,2388.3 1292.3,2392.3 1287.4,2395.2 C1282.5,2398 1277.1,2401.2 1271.9,2404.1 C1266.6,2406.9 1261.1,2410.1 1255.7,2412.1 C1250.3,2414.2 1244.9,2415.6 1239.6,2416.4 C1234.2,2417.1 1228.8,2417 1223.4,2416.6 C1218,2416.1 1212.5,2415 1207.3,2413.7 C1202,2412.5 1196.6,2410.7 1191.9,2408.9 C1187.2,2407 1183.1,2405 1179,2402.6 C1174.9,2400.3 1171,2397.5 1167.3,2395 C1163.6,2392.4 1160.2,2389.5 1156.8,2387.3 C1153.4,2385.1 1150.3,2382.8 1147.1,2381.8 C1143.9,2380.9 1141.3,2380.6 1137.8,2381.4 C1134.4,2382.3 1130.4,2384.8 1126.5,2387.1 C1122.6,2389.4 1118.4,2392.3 1114.4,2395.2 C1110.4,2398 1106.3,2401.1 1102.3,2404.1 C1098.3,2407 1094.5,2410.5 1090.6,2412.9 C1086.6,2415.3 1083,2418.2 1078.6,2418.4 C1074.1,2418.6 1068.3,2416.5 1063.9,2413.9 C1059.5,2411.4 1055.9,2406.9 1052.2,2403 C1048.6,2399.2 1045.6,2395 1042.1,2390.9 C1038.7,2386.9 1035.3,2382.9 1031.6,2378.8 C1027.9,2374.8 1023.8,2370.7 1019.9,2366.7 C1016,2362.7 1011.9,2358.7 1008.2,2354.6 C1004.5,2350.5 1001.2,2346.4 997.7,2342.1 C994.3,2337.8 990.9,2333.1 987.6,2328.8 C984.3,2324.4 981,2320.8 978,2315.8 C974.9,2310.9 972,2305.7 969.1,2298.9 C966.2,2292.2 962.9,2282.3 960.6,2275.3 C958.2,2268.4 956.8,2263.1 954.9,2257.2 C953.1,2251.3 951.2,2245.8 949.3,2239.8 C947.3,2233.9 945.2,2227.7 943.2,2221.7 C941.2,2215.6 939.2,2209.6 937.2,2203.5 C935.2,2197.5 933.1,2191.3 931.1,2185.3 C929.1,2179.4 927.1,2173.2 925.1,2168 C923,2162.8 921,2157.8 919,2154.3 C917,2150.7 915,2147.8 913,2146.8 C910.9,2145.7 908.8,2146.2 906.5,2148 C904.1,2149.8 901.4,2153.7 898.8,2157.7 C896.2,2161.7 893.4,2166.7 890.7,2172 C888.1,2177.3 885.4,2183.5 882.7,2189.4 C880,2195.2 877.3,2201.4 874.6,2207.1 C871.9,2212.9 869.2,2218.3 866.5,2224.1 C863.8,2229.9 861.1,2235.9 858.4,2241.9 C855.8,2247.8 853.1,2254.1 850.8,2259.6 C848.5,2265.2 846.5,2270.6 844.7,2275.3 C843,2280 841,2285.7 840.3,2287.8 Z" fill="#cccccc"/>
<line x1="869.8" y1="2119.9" x2="869.8" y2="2189.4" stroke="#0000ff" stroke-width="4.7"/>
<line x1="912.5" y1="2090.5" x2="912.5" y2="2159.9" stroke="#0000ff" stroke-width="4.7"/>
<line x1="942.4" y1="2189.4" x2="942.4" y2="2256.6" stroke="#0000ff" stroke-width="4.7"/>
<line x1="957" y1="2203.5" x2="957" y2="2273.4" stroke="#008000" stroke-width="4.7"/>
<line x1="999.8" y1="2206.7" x2="999.8" y2="2277" stroke="#008000" stroke-width="4.7"/>
<line x1="1029.6" y1="2288.3" x2="1029.6" y2="2358.1" stroke="#008000" stroke-width="4.7"/>
<line x1="1063.5" y1="2470" x2="1099.5" y2="2470" stroke="#ff0000" stroke-width="4.7"/>
<line x1="1080.5" y1="2434.4" x2="1080.5" y2="2506.3" stroke="#ff0000" stroke-width="4.7"/>
<line x1="1105.9" y1="2472.8" x2="1142.3" y2="2472.8" stroke="#ff0000" stroke-width="4.7"/>
<line x1="1123.3" y1="2436.5" x2="1123.3" y2="2510.3" stroke="#ff0000" stroke-width="4.7"/>
<line x1="1136.2" y1="2410.2" x2="1172.1" y2="2410.2" stroke="#ff0000" stroke-width="4.7"/>
<line x1="1153.2" y1="2373.1" x2="1153.2" y2="2447.8" stroke="#ff0000" stroke-width="4.7"/>
<path d="M840.3,2235.8 C841.4,2233.7 844.4,2227.7 846.7,2223.3 C849.1,2218.9 851.8,2214.3 854.4,2209.6 C857,2204.9 859.9,2200 862.5,2195 C865.1,2190.1 867.8,2184.7 870.2,2179.7 C872.5,2174.6 874.5,2169.9 876.6,2164.8 C878.7,2159.6 880.7,2154.1 882.7,2148.6 C884.6,2143.2 886.6,2136.9 888.3,2132 C890,2127.2 891.3,2123 892.8,2119.5 C894.2,2116.1 895.5,2113.4 897.2,2111.3 C898.9,2109.1 900.9,2107.5 902.9,2106.8 C904.8,2106.2 906.9,2106.5 908.9,2107.4 C910.9,2108.4 913,2110.1 915,2112.5 C917,2114.8 919,2117.8 921,2121.4 C923,2124.9 925.1,2129 927.1,2133.7 C929.1,2138.3 931.1,2143.8 933.1,2149.4 C935.2,2155 937.2,2161.1 939.2,2167.2 C941.2,2173.2 943.2,2179.4 945.2,2185.7 C947.3,2192.1 949.3,2198.8 951.3,2205.1 C953.3,2211.4 955.3,2217.5 957.4,2223.7 C959.4,2229.9 961.4,2236.2 963.4,2242.3 C965.4,2248.3 967.4,2255.1 969.5,2260 C971.6,2264.9 973.3,2267.9 975.9,2271.7 C978.6,2275.6 981.5,2278.3 985.2,2283 C988.9,2287.7 994.3,2294.8 998.1,2299.8 C1002,2304.7 1004.9,2308.5 1008.2,2312.6 C1011.5,2316.7 1014.6,2320.3 1017.9,2324.3 C1021.3,2328.4 1024.8,2332.5 1028.4,2336.8 C1032,2341.1 1036,2345.8 1039.3,2350.2 C1042.6,2354.5 1045.4,2358.7 1048.2,2362.7 C1051,2366.6 1053.3,2371.1 1056.3,2374 C1059.3,2376.9 1062.1,2379.7 1066.3,2380 C1070.5,2380.4 1076.2,2378.3 1081.4,2376.2 C1086.6,2374.1 1091.9,2370.7 1097.5,2367.5 C1103,2364.3 1109.7,2360.8 1114.8,2357 C1119.9,2353.2 1124.2,2348.7 1128.1,2344.7 C1132,2340.7 1135.1,2336.4 1138.2,2333.2 C1141.4,2330 1144,2327.1 1147.1,2325.3 C1150.2,2323.5 1153.5,2322.6 1156.8,2322.3 C1160.1,2322 1163.5,2322.8 1166.9,2323.5 C1170.3,2324.2 1173.5,2325.5 1177,2326.5 C1180.5,2327.5 1183.9,2329 1187.9,2329.5 C1191.9,2330 1196.6,2330 1201.2,2329.7 C1205.9,2329.4 1210.7,2328.8 1215.7,2327.7 C1220.8,2326.5 1226.3,2324.8 1231.5,2322.7 C1236.7,2320.6 1242.1,2317.9 1246.8,2315.2 C1251.5,2312.5 1255.3,2310 1259.8,2306.6 C1264.2,2303.1 1268.3,2299.1 1273.5,2294.3 C1278.7,2289.5 1285.4,2282.8 1291,2277.9 C1296.7,2273.1 1304.5,2267.2 1307.2,2265.1" fill="none" stroke="#000000" stroke-width="5.9" stroke-linejoin="round" stroke-linecap="butt"/>
<path d="M869.8,2132.5 L864.8,2147.8 L848.6,2147.8 L861.7,2157.3 L856.7,2172.7 L869.8,2163.2 L882.8,2172.7 L877.8,2157.3 L890.9,2147.8 L874.7,2147.8Z" fill="#0000ff" stroke="#0000ff" stroke-width="2.8" stroke-linejoin="bevel"/>
<path d="M912.5,2103.9 L907.6,2119.2 L891.4,2119.2 L904.5,2128.7 L899.5,2144 L912.5,2134.6 L925.6,2144 L920.6,2128.7 L933.7,2119.2 L917.5,2119.2Z" fill="#0000ff" stroke="#0000ff" stroke-width="2.8" stroke-linejoin="bevel"/>
<path d="M942.4,2200.8 L937.4,2216.1 L921.3,2216.1 L934.4,2225.6 L929.4,2240.9 L942.4,2231.4 L955.5,2240.9 L950.5,2225.6 L963.5,2216.1 L947.4,2216.1Z" fill="#0000ff" stroke="#0000ff" stroke-width="2.8" stroke-linejoin="bevel"/>
<path d="M957,2216.2 L934.5,2261.2 L979.5,2261.2 Z" fill="#008000" stroke="#008000" stroke-width="2.8" stroke-linejoin="miter" stroke-miterlimit="10"/>
<path d="M999.8,2218.7 L977.3,2263.7 L1022.3,2263.7 Z" fill="#008000" stroke="#008000" stroke-width="2.8" stroke-linejoin="miter" stroke-miterlimit="10"/>
<path d="M1029.6,2301 L1007.1,2346 L1052.1,2346 Z" fill="#008000" stroke="#008000" stroke-width="2.8" stroke-linejoin="miter" stroke-miterlimit="10"/>
<circle cx="1080.5" cy="2470" r="12.4" fill="#ff0000"/>
<circle cx="1123.3" cy="2472.8" r="12.4" fill="#ff0000"/>
<circle cx="1153.2" cy="2410.2" r="12.4" fill="#ff0000"/>
</g>
<rect x="818.8" y="2047.1" width="509.2" height="486.3" fill="none" stroke="#000000" stroke-width="2.8"/>
<rect x="873.5" y="2522.9" width="9.3" height="21" fill="#000000"/>
<rect x="1054" y="2522.9" width="9.3" height="21" fill="#000000"/>
<rect x="1234.6" y="2522.9" width="9.3" height="21" fill="#000000"/>
<rect x="808.3" y="2088.8" width="21" height="9" fill="#000000"/>
<text x="798.3" y="2111.5" text-anchor="end" class="tl">−1.0</text>
<rect x="808.3" y="2197.8" width="21" height="9" fill="#000000"/>
<text x="798.3" y="2220.5" text-anchor="end" class="tl">−0.5</text>
<rect x="808.3" y="2306.4" width="21" height="9" fill="#000000"/>
<text x="798.3" y="2329.1" text-anchor="end" class="tl">0.0</text>
<rect x="808.3" y="2415" width="21" height="9" fill="#000000"/>
<text x="798.3" y="2437.7" text-anchor="end" class="tl">0.5</text>
<rect x="808.3" y="2524" width="21" height="9" fill="#000000"/>
<text x="798.3" y="2546.7" text-anchor="end" class="tl">1.0</text>
<text x="1276.5" y="2096.2" text-anchor="end" class="tt">F200W-F277W</text>
<text x="878.1" y="2591" text-anchor="middle" class="tl">0</text>
<text x="1058.7" y="2591" text-anchor="middle" class="tl">100</text>
<text x="1239.3" y="2591" text-anchor="middle" class="tl">200</text>
<rect x="296.1" y="74.8" width="344.6" height="97.8" rx="3.5" ry="3.5" fill="#ffffff" fill-opacity="0.8" stroke="#cccccc" stroke-width="2.8"/>
<line x1="308" y1="99.1" x2="368" y2="99.1" stroke="#000000" stroke-width="5.9" stroke-linecap="square"/>
<text x="391.5" y="109.6" class="lg">Best-Fit</text>
<line x1="521.8" y1="100.5" x2="551.8" y2="100.5" stroke="#0000ff" stroke-width="4.7"/>
<line x1="536.8" y1="85.5" x2="536.8" y2="115.5" stroke="#0000ff" stroke-width="4.7"/>
<path d="M536.8,78.1 L531.8,93.4 L515.7,93.4 L528.7,102.9 L523.8,118.3 L536.8,108.8 L549.8,118.3 L544.9,102.9 L557.9,93.4 L541.8,93.4Z" fill="#0000ff" stroke="#0000ff" stroke-width="2.8" stroke-linejoin="bevel"/>
<text x="591" y="109.6" class="lg">2b</text>
<line x1="323" y1="142.9" x2="353" y2="142.9" stroke="#ff0000" stroke-width="4.7"/>
<line x1="338" y1="128" x2="338" y2="158" stroke="#ff0000" stroke-width="4.7"/>
<circle cx="338" cy="142.9" r="12.4" fill="#ff0000"/>
<text x="391.5" y="153.5" class="lg">2a</text>
<line x1="521.8" y1="142.1" x2="551.8" y2="142.1" stroke="#008000" stroke-width="4.7"/>
<path d="M536.8,120.5 L514.3,165.5 L559.3,165.5 Z" fill="#008000" stroke="#008000" stroke-width="2.8" stroke-linejoin="miter" stroke-miterlimit="10"/>
<text x="591" y="153.5" class="lg">2c</text>
<text x="742.5" y="2648.7" text-anchor="middle" class="al">MJD - 60037.6 (Observer-frame)</text>
<text transform="translate(41.9,1264.4) rotate(-90)" x="0" y="0" text-anchor="middle" class="yl">Observed Color</text>
</svg>
</body></html>
